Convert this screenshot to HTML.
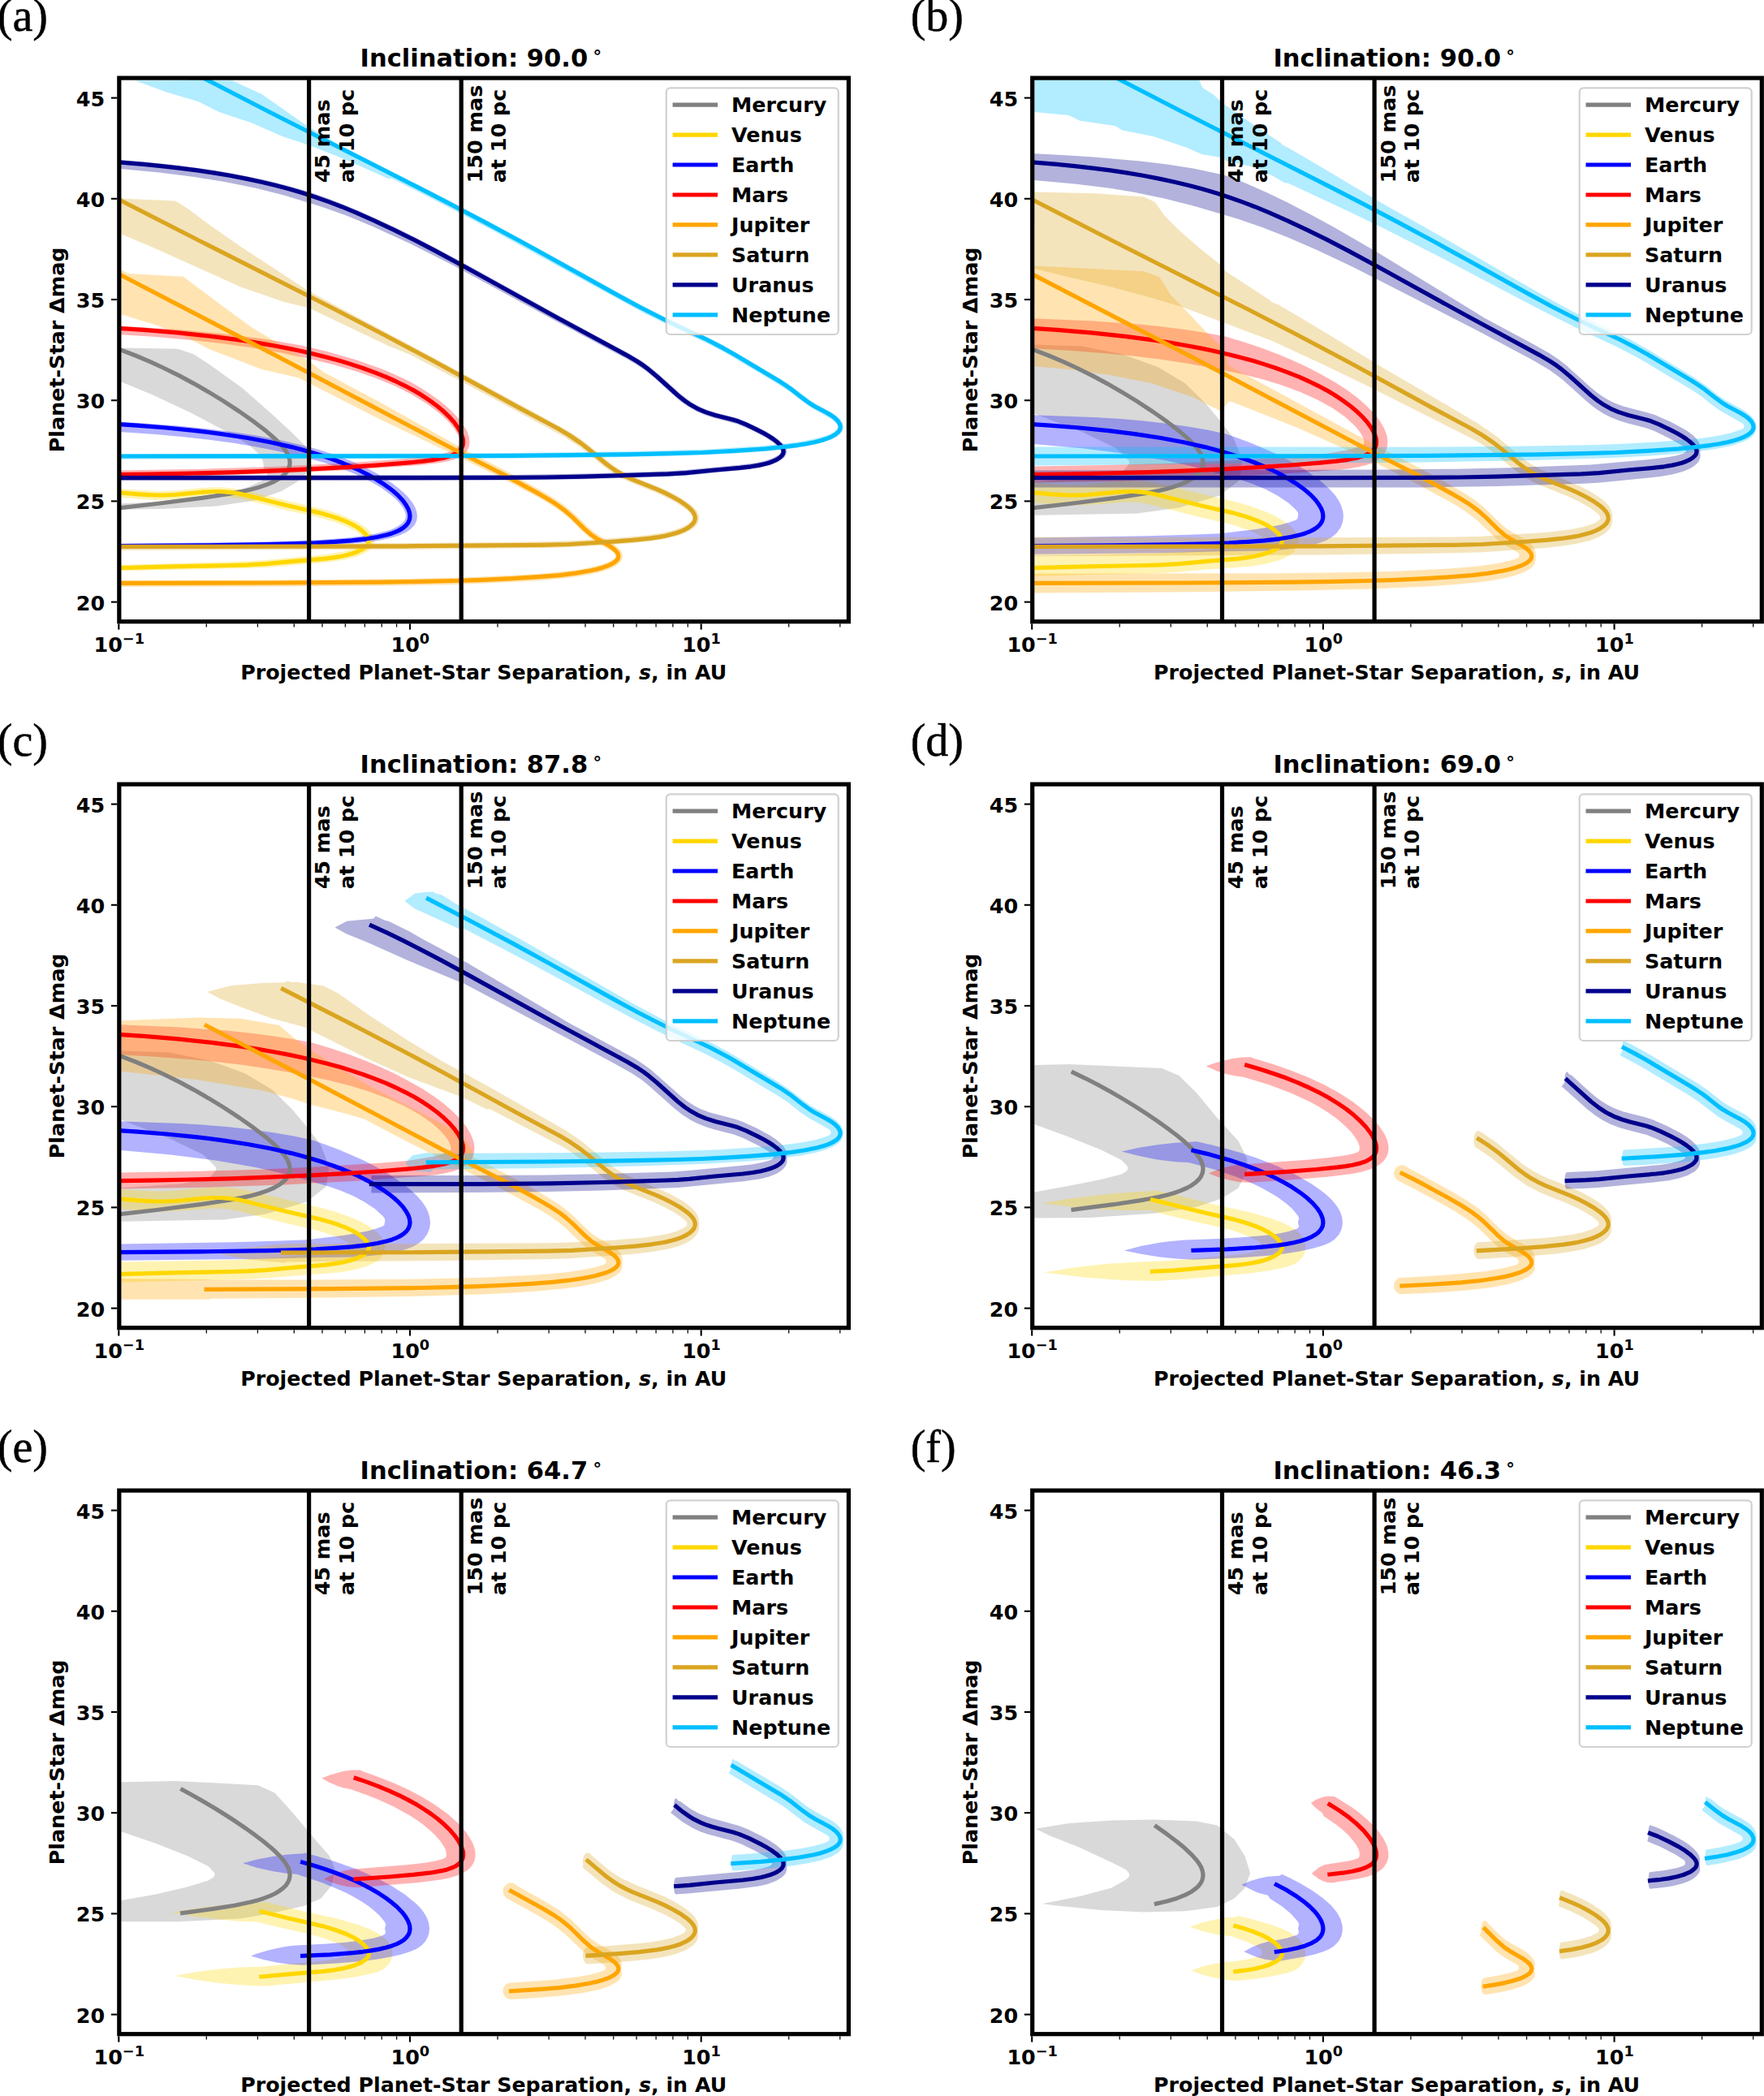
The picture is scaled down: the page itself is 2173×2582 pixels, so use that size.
<!DOCTYPE html>
<html><head><meta charset="utf-8"><title>Planet-Star Δmag vs projected separation</title>
<style>html,body{margin:0;padding:0;background:#fff}svg{display:block}text{font-family:"DejaVu Sans","Liberation Sans",sans-serif;fill:#000}.pl{font-family:"Liberation Serif","DejaVu Serif",serif;font-weight:normal}</style></head><body>
<svg width="2173" height="2582" viewBox="0 0 2173 2582">
<rect width="2173" height="2582" fill="#fff"/>
<g transform="translate(0.0,0.0)">
<clipPath id="cp0"><rect x="146.8" y="96.1" width="898.6" height="669.6"/></clipPath>
<g clip-path="url(#cp0)">
<path d="M148.7,620.8L148.7,627.2L149.3,627.8L203.5,626.7L266.9,623.5L314.8,616.3L346.2,605.3L365.5,594.0L374.8,586.3L382.4,577.2L382.9,576.0L382.6,562.0L376.3,549.5L362.2,535.4L338.4,513.2L298.8,478.3L259.1,449.7L238.6,436.3L219.1,429.8L148.8,428.4L148.9,470.2L187.7,486.2L235.1,508.4L282.8,533.8L306.4,547.9L319.7,559.9L323.8,568.1L325.2,577.1L328.6,581.9L329.2,583.6L329.1,585.4L328.1,587.0L321.8,592.8L298.4,602.9L267.2,610.7L203.6,617.9L149.2,620.3Z" fill="#808080" fill-opacity="0.3" fill-rule="evenodd"/>
<path d="M140.0,612.3L176.6,615.3L197.0,616.0L217.4,615.3L261.3,611.6L276.6,611.8L291.9,613.7L307.6,617.1L353.6,628.7L391.6,637.2L411.2,642.7L426.7,648.5L438.2,654.4L446.3,660.5L449.1,663.5L449.9,665.4L449.6,667.4L447.6,669.7L443.0,672.7L437.0,675.3L421.9,679.7L402.4,682.8L326.6,689.9L306.8,691.3L140.0,696.3L140.0,703.3L307.2,700.1L329.4,698.9L403.5,692.8L426.1,689.3L436.6,686.6L444.7,683.7L451.3,680.3L456.5,676.5L459.8,672.4L461.3,668.1L461.2,664.1L459.9,660.3L457.1,656.0L452.8,651.6L447.1,647.2L439.9,642.7L425.0,635.9L410.7,630.8L396.4,626.7L350.3,616.1L306.3,605.1L294.0,602.6L279.4,600.7L262.9,600.3L248.6,601.1L216.6,604.2L193.1,604.9L173.3,604.0L140.0,601.2Z" fill="#FFD700" fill-opacity="0.3" fill-rule="evenodd"/>
<path d="M140.0,531.5L188.3,534.7L224.1,537.9L255.9,541.4L287.6,545.8L315.4,550.4L339.1,555.1L374.8,563.3L398.6,569.8L418.5,576.4L438.3,584.2L454.2,591.9L469.9,601.1L481.6,609.7L488.0,615.3L492.7,620.4L496.2,625.1L498.5,629.4L499.7,633.1L500.0,636.5L498.6,641.0L495.1,645.1L489.0,649.1L481.5,652.4L473.8,654.8L462.2,657.6L446.5,660.3L430.6,662.3L394.8,665.0L334.9,667.2L255.0,668.6L140.0,669.7L140.0,675.7L257.0,675.0L337.1,673.9L393.2,672.0L441.4,669.0L457.7,667.2L470.0,665.2L482.5,662.4L491.3,659.7L499.9,655.9L506.0,651.8L510.5,647.1L513.3,641.2L514.0,636.2L513.3,630.5L511.4,625.0L508.4,619.7L504.0,613.9L498.5,608.0L491.7,601.9L483.1,595.2L464.3,583.2L443.8,572.6L421.3,563.4L394.8,554.6L370.4,547.9L344.1,541.9L315.9,536.6L285.7,531.9L253.5,527.9L219.4,524.5L185.3,521.9L140.0,519.2Z" fill="#0000FF" fill-opacity="0.3" fill-rule="evenodd"/>
<path d="M140.0,411.5L192.4,415.0L236.2,419.0L276.1,423.5L311.9,428.6L347.7,434.8L383.4,442.4L411.2,449.3L439.0,457.4L462.8,465.8L486.6,475.6L506.3,485.5L526.0,497.4L541.7,509.3L549.4,516.4L554.8,522.1L559.4,527.9L563.5,534.4L565.9,540.1L566.6,544.9L565.8,548.2L563.4,551.3L559.0,554.2L553.1,556.7L545.7,558.8L534.2,561.1L506.5,564.6L434.7,570.0L342.8,574.7L250.9,577.7L140.0,579.7L140.0,587.7L253.1,586.0L347.1,583.1L435.2,578.8L517.5,573.0L544.0,569.8L552.5,568.0L560.8,565.5L566.6,562.9L571.8,559.4L575.4,555.3L577.8,550.5L578.6,544.9L577.9,538.6L575.4,531.5L571.4,524.4L565.3,516.1L558.1,508.2L549.6,500.3L541.2,493.4L530.9,485.9L520.7,479.3L508.4,472.1L498.2,466.8L483.9,460.2L469.6,454.3L439.2,443.4L402.8,432.9L382.6,427.9L368.4,425.0L324.0,417.3L273.6,410.9L213.4,405.5L140.0,401.3Z" fill="#FF0000" fill-opacity="0.3" fill-rule="evenodd"/>
<path d="M140.0,347.1L147.0,350.7L148.5,352.2L149.1,354.3L149.1,386.6L149.7,387.4L192.3,400.4L231.1,415.9L257.5,430.1L322.4,455.0L367.5,465.3L466.4,515.7L566.4,563.4L614.8,587.3L666.9,614.8L678.8,621.9L690.7,629.9L702.4,639.6L716.4,653.5L724.6,660.8L733.0,666.7L752.0,677.9L756.5,681.7L758.0,684.4L757.8,686.3L756.8,688.0L751.9,691.2L741.9,695.2L730.1,698.3L714.4,701.4L698.5,703.6L678.7,705.6L650.8,707.7L574.9,711.2L487.0,713.2L355.0,714.3L140.0,715.0L140.0,723.0L347.0,722.5L475.1,721.6L563.1,719.9L633.2,717.1L663.3,715.2L689.4,713.0L709.6,710.6L727.9,707.4L742.3,703.9L753.9,699.7L761.4,695.2L764.0,692.7L765.6,690.3L766.9,686.2L766.6,682.5L764.9,678.7L761.3,674.5L753.8,668.9L739.3,660.6L731.7,655.5L724.2,649.1L710.3,635.4L702.1,627.9L693.8,621.4L683.6,614.4L665.4,603.5L625.5,581.3L571.6,553.4L473.1,498.3L398.7,458.6L380.3,444.6L348.6,426.4L309.3,402.8L270.4,374.2L226.5,341.2L225.5,340.8L158.6,337.0L156.9,336.5L140.0,327.7Z" fill="#FFA500" fill-opacity="0.3" fill-rule="evenodd"/>
<path d="M140.0,257.6L147.0,261.2L148.5,262.6L149.1,264.7L149.1,287.6L149.7,288.4L192.2,306.4L296.5,353.4L348.5,371.6L380.8,379.6L478.9,426.3L504.8,436.7L566.2,468.8L694.5,537.7L714.3,550.6L722.2,556.7L744.3,575.1L756.7,583.9L764.9,588.7L773.1,592.8L811.3,608.3L830.9,617.9L841.3,624.5L847.7,629.5L852.0,634.3L853.0,636.4L853.3,638.2L852.6,640.4L850.4,643.1L846.7,646.0L842.4,648.4L829.9,653.1L814.3,656.7L798.4,659.1L774.7,661.6L706.8,666.1L670.9,667.3L511.0,669.0L140.0,670.4L140.0,677.9L503.0,676.8L667.0,675.1L701.2,674.2L777.3,669.3L799.4,667.0L817.7,664.2L834.1,660.2L845.5,655.9L850.7,653.0L854.6,650.2L857.7,647.2L859.7,644.2L861.1,640.2L861.2,636.6L860.3,633.0L858.3,629.3L855.4,625.7L851.3,621.9L839.1,613.4L820.7,603.6L782.5,588.0L766.9,580.4L759.1,575.5L751.4,570.0L719.4,543.8L707.1,535.3L694.9,527.9L536.7,442.1L380.2,358.4L296.4,303.8L257.4,276.5L231.3,256.9L216.1,247.5L152.9,244.8L151.2,244.3L140.0,238.6Z" fill="#DAA520" fill-opacity="0.3" fill-rule="evenodd"/>
<path d="M140.0,207.1L196.2,212.5L239.8,218.0L279.5,224.5L315.1,231.8L350.6,240.7L394.1,254.0L426.0,265.3L458.0,278.4L506.2,300.5L558.5,326.9L682.9,394.5L771.1,441.5L783.1,448.4L794.9,456.5L806.7,466.1L834.8,491.4L843.0,497.7L851.2,503.1L859.5,507.5L869.8,511.8L880.0,515.0L907.7,522.3L915.6,525.4L927.4,530.8L943.2,539.1L952.4,545.1L959.7,551.5L961.5,554.1L962.0,556.4L961.1,558.6L959.5,560.2L952.3,564.3L942.1,567.8L930.4,570.2L910.6,572.7L846.7,578.8L826.8,580.2L718.9,583.6L631.0,584.9L140.0,585.4L140.0,592.1L629.0,591.6L719.1,590.3L825.1,587.0L847.3,585.6L913.3,579.3L935.6,576.2L947.9,573.2L957.8,569.3L964.7,564.8L967.0,562.4L968.5,559.7L969.2,557.0L968.9,553.8L967.4,550.4L965.0,547.1L957.2,540.0L944.7,532.0L928.4,523.7L914.2,517.4L905.9,514.5L885.7,509.5L874.1,506.1L866.2,503.0L858.4,499.3L850.8,494.7L839.2,486.0L811.3,460.9L801.1,452.5L790.9,445.1L778.7,437.6L686.6,387.8L578.6,328.1L538.6,306.4L488.5,280.9L442.4,259.7L404.2,244.6L384.1,237.6L366.0,232.0L345.9,226.5L325.8,221.5L283.6,213.0L251.5,207.9L217.4,203.5L181.3,199.7L140.0,196.3Z" fill="#00008B" fill-opacity="0.3" fill-rule="evenodd"/>
<path d="M228.4,90.0L231.5,91.6L233.0,93.0L233.6,95.0L233.2,97.1L231.7,98.6L229.7,99.1L166.4,99.2L205.1,113.4L244.0,125.1L270.5,138.3L309.7,151.3L348.5,168.2L380.5,178.7L426.7,196.9L478.5,220.2L480.6,219.6L483.1,220.0L551.0,254.4L611.0,285.9L789.1,383.4L823.3,400.5L871.3,423.0L895.1,435.6L959.0,473.4L974.7,484.0L995.0,499.6L1003.2,504.6L1023.0,515.4L1027.0,518.4L1029.9,521.2L1031.8,524.3L1032.1,526.6L1031.0,528.9L1027.8,531.7L1022.9,534.4L1017.8,536.5L1006.0,540.0L986.4,543.9L966.5,546.6L938.7,549.3L870.8,553.5L778.9,556.1L635.0,557.9L475.0,558.6L140.0,559.2L140.0,565.8L629.0,564.7L767.1,563.1L861.1,560.8L899.2,558.9L939.2,556.2L967.3,553.5L989.5,550.4L1007.8,546.7L1022.9,542.0L1028.4,539.4L1032.4,537.0L1035.5,534.3L1037.9,531.2L1039.2,526.4L1038.2,521.3L1034.6,516.0L1028.9,511.0L1023.4,507.4L1006.6,498.5L998.9,493.8L977.0,477.0L962.8,467.5L894.5,427.2L874.4,416.7L826.4,394.2L794.4,378.1L758.5,358.8L656.5,302.2L600.5,272.0L526.4,233.3L416.9,177.7L380.3,156.4L322.4,116.0L286.4,99.3L264.4,99.1L262.5,98.7L245.7,90.0Z" fill="#00BFFF" fill-opacity="0.3" fill-rule="evenodd"/>
<path d="M120.0,628.9L193.0,620.5L249.0,613.4L283.0,608.2L297.0,605.6L309.0,603.0L319.0,600.3L329.0,596.9L337.0,593.5L344.4,589.2L349.9,584.9L351.8,583.0L353.8,580.4L355.0,578.3L356.1,575.7L356.8,573.0L357.1,570.2L356.8,566.8L355.9,563.3L354.4,559.6L352.6,556.4L349.9,552.5L347.0,549.0L339.0,540.8L327.0,530.4L313.0,519.7L295.0,507.0L275.0,493.9L257.0,482.9L239.0,472.6L221.0,462.9L201.0,453.0L185.0,445.6L167.0,438.0L120.0,420.0" fill="none" stroke="#808080" stroke-width="5.2" stroke-linejoin="round" stroke-linecap="square"/>
<path d="M120.0,700.3L213.0,697.9L285.0,696.5L305.0,695.9L327.0,694.6L365.0,691.1L399.0,688.4L411.0,686.9L421.0,685.2L431.0,682.8L439.0,680.2L445.4,677.2L448.0,675.6L450.6,673.6L452.2,672.0L453.4,670.3L454.1,668.6L454.5,666.6L454.3,664.8L453.9,663.3L451.9,659.8L448.5,656.0L443.7,651.9L439.0,648.8L433.0,645.5L425.0,641.9L417.0,638.8L405.0,634.9L393.0,631.6L353.0,622.5L307.0,610.9L293.0,607.8L285.0,606.6L277.0,605.8L271.0,605.5L263.0,605.5L251.0,606.2L215.0,609.5L203.0,610.0L193.0,610.0L183.0,609.7L171.0,608.9L120.0,604.5" fill="none" stroke="#FFD700" stroke-width="5.2" stroke-linejoin="round" stroke-linecap="square"/>
<path d="M120.0,672.8L245.0,671.9L329.0,670.7L361.0,669.8L389.0,668.8L413.0,667.4L433.0,665.8L451.0,663.8L465.0,661.5L477.0,658.8L483.0,656.9L487.0,655.4L491.0,653.6L495.0,651.4L497.8,649.4L500.5,646.8L502.3,644.6L503.8,641.7L504.6,639.3L505.0,636.1L504.5,631.6L502.9,626.9L500.1,621.9L496.2,616.5L491.0,610.9L485.0,605.5L479.0,600.8L471.0,595.2L463.0,590.2L453.0,584.6L443.0,579.5L433.0,575.0L423.0,570.8L411.0,566.2L399.0,562.1L385.0,557.7L373.0,554.3L359.0,550.6L333.0,544.8L305.0,539.5L273.0,534.6L241.0,530.6L205.0,527.0L169.0,524.1L120.0,521.0" fill="none" stroke="#0000FF" stroke-width="5.2" stroke-linejoin="round" stroke-linecap="square"/>
<path d="M120.0,585.0L185.0,584.1L237.0,583.0L285.0,581.8L331.0,580.2L377.0,578.2L421.0,575.8L465.0,573.0L501.0,570.2L521.0,568.2L535.0,566.3L547.0,563.9L555.0,561.6L559.0,559.9L562.1,558.3L564.6,556.6L566.7,554.7L568.3,552.6L569.5,550.4L570.3,547.9L570.6,544.8L570.5,542.0L570.0,539.6L568.0,533.8L564.6,527.5L559.7,520.6L553.0,513.1L547.0,507.3L539.0,500.5L529.0,493.1L519.0,486.5L509.0,480.6L499.0,475.3L487.0,469.5L475.0,464.2L461.0,458.6L447.0,453.5L433.0,448.9L419.0,444.6L403.0,440.2L387.0,436.2L371.0,432.5L355.0,429.1L337.0,425.7L319.0,422.6L299.0,419.4L261.0,414.4L219.0,409.9L177.0,406.4L120.0,402.7" fill="none" stroke="#FF0000" stroke-width="5.2" stroke-linejoin="round" stroke-linecap="square"/>
<path d="M120.0,718.5L337.0,718.0L469.0,717.1L517.0,716.4L559.0,715.5L595.0,714.3L631.0,712.7L663.0,710.7L689.0,708.6L709.0,706.1L727.0,703.0L735.0,701.2L743.0,698.9L748.5,697.0L753.1,694.9L756.7,692.8L759.7,690.3L761.3,688.1L761.9,685.4L761.5,683.0L760.5,680.9L758.7,678.7L755.8,676.0L749.9,671.9L735.0,663.4L729.0,659.4L721.0,652.6L705.0,636.9L695.0,628.3L689.0,623.8L683.0,619.7L675.0,614.7L665.0,608.9L619.0,583.9L585.0,566.7L551.0,549.2L341.0,438.6L120.0,323.9" fill="none" stroke="#FFA500" stroke-width="5.2" stroke-linejoin="round" stroke-linecap="square"/>
<path d="M120.0,673.4L359.0,673.2L499.0,672.8L667.0,671.3L701.0,670.5L751.0,667.5L779.0,665.4L801.0,663.1L811.0,661.6L819.0,660.2L827.0,658.3L835.0,656.0L841.0,653.6L846.2,651.0L850.4,648.2L853.8,644.8L855.6,641.8L856.1,640.3L856.3,638.3L856.1,635.9L855.2,633.4L853.8,630.8L852.1,628.7L849.5,626.0L846.8,623.7L839.0,618.1L829.0,612.2L819.0,607.1L809.0,602.7L779.0,590.6L769.0,585.8L761.0,581.4L755.0,577.5L747.0,571.7L725.0,553.2L715.0,545.5L701.0,536.0L687.0,527.8L639.0,502.1L535.0,445.2L467.0,409.2L407.0,378.3L247.0,297.2L120.0,232.3" fill="none" stroke="#DAA520" stroke-width="5.2" stroke-linejoin="round" stroke-linecap="square"/>
<path d="M120.0,588.6L515.0,588.7L625.0,588.4L673.0,588.0L717.0,587.2L823.0,583.9L845.0,582.6L881.0,579.0L911.0,576.4L925.0,574.8L935.0,573.1L941.0,571.8L947.0,570.2L952.4,568.2L956.9,566.1L960.3,563.9L963.1,561.3L964.6,559.0L965.2,556.4L964.7,553.6L963.1,550.6L960.3,547.3L956.9,544.2L952.4,540.8L947.0,537.3L941.0,533.8L933.0,529.6L919.0,522.9L909.0,518.8L901.0,516.5L881.0,511.5L869.0,507.6L859.0,503.3L851.0,498.8L843.0,493.4L835.0,487.0L809.0,463.5L797.0,453.6L791.0,449.2L785.0,445.3L771.0,437.1L687.0,391.8L575.0,330.0L535.0,308.4L509.0,294.9L485.0,283.1L461.0,271.8L439.0,262.1L421.0,254.7L405.0,248.6L389.0,243.0L373.0,237.8L357.0,233.1L339.0,228.3L321.0,224.0L303.0,220.1L283.0,216.3L263.0,212.9L243.0,209.9L221.0,207.1L199.0,204.6L177.0,202.4L120.0,197.7" fill="none" stroke="#00008B" stroke-width="5.2" stroke-linejoin="round" stroke-linecap="square"/>
<path d="M120.0,562.0L467.0,561.9L629.0,561.4L703.0,560.7L771.0,559.8L825.0,558.7L865.0,557.5L905.0,555.4L943.0,552.8L971.0,549.9L983.0,548.3L993.0,546.7L1003.0,544.7L1011.0,542.7L1019.0,540.1L1024.4,537.8L1028.9,535.3L1032.5,532.3L1034.4,529.5L1034.9,528.1L1035.2,526.2L1035.0,524.3L1034.6,522.7L1032.5,519.1L1028.9,515.4L1024.4,512.0L1019.0,508.7L1003.0,500.2L997.0,496.5L989.0,490.7L975.0,479.7L967.0,474.1L959.0,469.0L905.0,436.8L891.0,428.9L871.0,418.5L837.0,402.7L819.0,394.0L787.0,377.7L755.0,360.4L681.0,319.2L641.0,297.3L597.0,273.6L549.0,248.4L511.0,228.9L331.0,137.5L120.0,28.8" fill="none" stroke="#00BFFF" stroke-width="5.2" stroke-linejoin="round" stroke-linecap="square"/>
<line x1="380.6" y1="96.1" x2="380.6" y2="765.7" stroke="#000" stroke-width="5.2"/>
<line x1="568.2" y1="96.1" x2="568.2" y2="765.7" stroke="#000" stroke-width="5.2"/>
</g>
<text transform="translate(406.4,225.3) rotate(-90)" font-size="25.4" font-weight="bold"><tspan x="0" y="0">45 mas</tspan><tspan x="0" y="29.4">at 10 pc</tspan></text>
<text transform="translate(594.0,225.3) rotate(-90)" font-size="25.4" font-weight="bold"><tspan x="0" y="0">150 mas</tspan><tspan x="0" y="29.4">at 10 pc</tspan></text>
<rect x="146.8" y="96.1" width="898.6" height="669.6" fill="none" stroke="#000" stroke-width="5.2"/>
<line x1="136.9" y1="741.6" x2="144.2" y2="741.6" stroke="#000" stroke-width="2.1"/>
<text x="129.2" y="751.6" text-anchor="end" font-size="25.4" font-weight="bold">20</text>
<line x1="136.9" y1="617.4" x2="144.2" y2="617.4" stroke="#000" stroke-width="2.1"/>
<text x="129.2" y="627.4" text-anchor="end" font-size="25.4" font-weight="bold">25</text>
<line x1="136.9" y1="493.2" x2="144.2" y2="493.2" stroke="#000" stroke-width="2.1"/>
<text x="129.2" y="503.2" text-anchor="end" font-size="25.4" font-weight="bold">30</text>
<line x1="136.9" y1="369.0" x2="144.2" y2="369.0" stroke="#000" stroke-width="2.1"/>
<text x="129.2" y="379.0" text-anchor="end" font-size="25.4" font-weight="bold">35</text>
<line x1="136.9" y1="244.8" x2="144.2" y2="244.8" stroke="#000" stroke-width="2.1"/>
<text x="129.2" y="254.8" text-anchor="end" font-size="25.4" font-weight="bold">40</text>
<line x1="136.9" y1="120.6" x2="144.2" y2="120.6" stroke="#000" stroke-width="2.1"/>
<text x="129.2" y="130.6" text-anchor="end" font-size="25.4" font-weight="bold">45</text>
<line x1="146.3" y1="768.3" x2="146.3" y2="775.6" stroke="#000" stroke-width="2.1"/>
<text x="115.5" y="803.0" font-size="25.4" font-weight="bold">10<tspan dy="-9.6" font-size="17.7">−1</tspan></text>
<line x1="254.3" y1="768.3" x2="254.3" y2="772.5" stroke="#000" stroke-width="1.25"/>
<line x1="317.4" y1="768.3" x2="317.4" y2="772.5" stroke="#000" stroke-width="1.25"/>
<line x1="362.3" y1="768.3" x2="362.3" y2="772.5" stroke="#000" stroke-width="1.25"/>
<line x1="397.0" y1="768.3" x2="397.0" y2="772.5" stroke="#000" stroke-width="1.25"/>
<line x1="425.4" y1="768.3" x2="425.4" y2="772.5" stroke="#000" stroke-width="1.25"/>
<line x1="449.4" y1="768.3" x2="449.4" y2="772.5" stroke="#000" stroke-width="1.25"/>
<line x1="470.2" y1="768.3" x2="470.2" y2="772.5" stroke="#000" stroke-width="1.25"/>
<line x1="488.6" y1="768.3" x2="488.6" y2="772.5" stroke="#000" stroke-width="1.25"/>
<line x1="505.0" y1="768.3" x2="505.0" y2="775.6" stroke="#000" stroke-width="2.1"/>
<text x="481.5" y="803.0" font-size="25.4" font-weight="bold">10<tspan dy="-9.6" font-size="17.7">0</tspan></text>
<line x1="613.0" y1="768.3" x2="613.0" y2="772.5" stroke="#000" stroke-width="1.25"/>
<line x1="676.1" y1="768.3" x2="676.1" y2="772.5" stroke="#000" stroke-width="1.25"/>
<line x1="721.0" y1="768.3" x2="721.0" y2="772.5" stroke="#000" stroke-width="1.25"/>
<line x1="755.7" y1="768.3" x2="755.7" y2="772.5" stroke="#000" stroke-width="1.25"/>
<line x1="784.1" y1="768.3" x2="784.1" y2="772.5" stroke="#000" stroke-width="1.25"/>
<line x1="808.1" y1="768.3" x2="808.1" y2="772.5" stroke="#000" stroke-width="1.25"/>
<line x1="828.9" y1="768.3" x2="828.9" y2="772.5" stroke="#000" stroke-width="1.25"/>
<line x1="847.3" y1="768.3" x2="847.3" y2="772.5" stroke="#000" stroke-width="1.25"/>
<line x1="863.7" y1="768.3" x2="863.7" y2="775.6" stroke="#000" stroke-width="2.1"/>
<text x="840.2" y="803.0" font-size="25.4" font-weight="bold">10<tspan dy="-9.6" font-size="17.7">1</tspan></text>
<line x1="971.7" y1="768.3" x2="971.7" y2="772.5" stroke="#000" stroke-width="1.25"/>
<line x1="1034.8" y1="768.3" x2="1034.8" y2="772.5" stroke="#000" stroke-width="1.25"/>
<text x="595.7" y="837" text-anchor="middle" font-size="25.3" font-weight="bold">Projected Planet-Star Separation, <tspan font-style="italic">s</tspan>, in AU</text>
<text transform="translate(78.6,430.9) rotate(-90)" text-anchor="middle" font-size="25.4" font-weight="bold">Planet-Star Δmag</text>
<text x="443.6" y="81.5" font-size="30.55" font-weight="bold">Inclination: 90.0<tspan dx="5" dy="-11" font-size="21" font-weight="bold">∘</tspan></text>
<rect x="820.8" y="108.4" width="212.0" height="303.6" rx="5" ry="5" fill="#fff" fill-opacity="0.8" stroke="#ccc" stroke-opacity="0.9" stroke-width="2.2"/>
<line x1="828.6" y1="129.1" x2="884.1" y2="129.1" stroke="#808080" stroke-width="5.2"/>
<text x="901.0" y="138.4" font-size="25.4" font-weight="bold">Mercury</text>
<line x1="828.6" y1="166.1" x2="884.1" y2="166.1" stroke="#FFD700" stroke-width="5.2"/>
<text x="901.0" y="175.4" font-size="25.4" font-weight="bold">Venus</text>
<line x1="828.6" y1="203.0" x2="884.1" y2="203.0" stroke="#0000FF" stroke-width="5.2"/>
<text x="901.0" y="212.3" font-size="25.4" font-weight="bold">Earth</text>
<line x1="828.6" y1="240.0" x2="884.1" y2="240.0" stroke="#FF0000" stroke-width="5.2"/>
<text x="901.0" y="249.3" font-size="25.4" font-weight="bold">Mars</text>
<line x1="828.6" y1="276.9" x2="884.1" y2="276.9" stroke="#FFA500" stroke-width="5.2"/>
<text x="901.0" y="286.2" font-size="25.4" font-weight="bold">Jupiter</text>
<line x1="828.6" y1="313.9" x2="884.1" y2="313.9" stroke="#DAA520" stroke-width="5.2"/>
<text x="901.0" y="323.2" font-size="25.4" font-weight="bold">Saturn</text>
<line x1="828.6" y1="350.9" x2="884.1" y2="350.9" stroke="#00008B" stroke-width="5.2"/>
<text x="901.0" y="360.2" font-size="25.4" font-weight="bold">Uranus</text>
<line x1="828.6" y1="387.8" x2="884.1" y2="387.8" stroke="#00BFFF" stroke-width="5.2"/>
<text x="901.0" y="397.1" font-size="25.4" font-weight="bold">Neptune</text>
</g>
<text class="pl" x="-3.2" y="38" font-size="56" stroke="#000" stroke-width="0.5">(a)</text>
<g transform="translate(1124.9,0.0)">
<clipPath id="cp1"><rect x="146.8" y="96.1" width="898.6" height="669.6"/></clipPath>
<g clip-path="url(#cp1)">
<path d="M149.5,593.8L149.6,634.8L276.3,632.4L327.3,625.5L377.8,610.4L401.4,592.0L402.1,590.8L405.3,566.6L395.0,540.3L378.2,518.5L361.2,498.1L335.5,472.4L301.8,452.2L259.0,436.8L208.3,426.6L150.0,424.6L149.5,425.1L149.6,509.8L208.0,532.0L250.0,552.2L265.1,566.9L266.1,568.5L266.2,570.5L265.3,572.3L260.0,578.7L257.9,580.0L225.5,588.1L150.0,593.2Z" fill="#808080" fill-opacity="0.3" fill-rule="evenodd"/>
<path d="M140.0,618.4L178.3,621.7L199.0,622.5L219.9,621.8L261.4,618.5L272.5,618.7L283.4,619.8L298.0,622.9L343.7,634.8L389.5,645.6L400.8,648.8L412.0,652.7L422.9,657.5L429.4,661.4L430.7,663.0L431.0,665.2L430.1,667.1L427.0,668.9L416.4,671.6L405.2,673.5L389.9,675.1L321.9,680.6L290.6,682.0L140.0,684.8L140.0,709.8L309.5,705.7L327.8,704.6L375.8,700.4L402.1,698.8L416.8,697.4L429.8,695.5L441.3,693.0L450.6,690.2L458.9,686.8L464.6,683.5L469.3,679.4L472.5,674.6L474.2,669.6L474.4,664.5L473.2,659.6L470.6,654.7L466.2,649.4L460.6,644.7L452.8,639.5L444.3,634.9L434.8,630.6L415.4,623.5L396.4,617.9L348.3,606.8L312.4,598.0L295.4,594.5L280.1,592.8L262.7,592.5L247.9,593.4L212.3,597.1L193.2,597.6L173.9,596.8L140.0,594.1Z" fill="#FFD700" fill-opacity="0.3" fill-rule="evenodd"/>
<path d="M140.0,546.3L210.7,552.5L265.6,559.5L312.2,567.5L335.3,572.6L354.4,577.3L404.1,591.2L419.2,596.5L434.2,602.8L448.7,610.4L462.3,619.5L471.5,628.1L473.6,630.8L474.3,632.4L474.2,634.2L473.5,638.8L471.7,640.5L463.4,643.5L452.5,646.5L437.3,649.5L421.8,652.0L378.6,657.2L338.7,658.8L286.8,660.2L140.0,662.6L140.0,682.7L315.2,681.0L379.5,679.2L426.0,678.8L444.5,678.0L461.3,676.6L476.6,674.6L488.3,672.3L500.0,669.1L509.2,665.4L516.3,661.2L522.0,656.2L526.6,649.7L529.1,643.2L530.0,636.6L529.4,629.9L527.3,622.7L524.0,616.2L519.3,609.5L513.0,602.5L503.3,593.7L495.9,587.9L484.3,579.8L473.2,572.9L460.3,565.7L447.5,559.2L418.2,546.4L401.6,540.2L385.0,534.6L362.0,529.6L337.0,525.2L310.2,521.4L281.5,518.2L252.9,515.8L222.4,514.0L140.0,511.1Z" fill="#0000FF" fill-opacity="0.3" fill-rule="evenodd"/>
<path d="M140.0,429.0L191.0,431.8L230.6,434.7L266.2,438.0L301.7,442.3L333.1,446.9L364.5,452.5L403.8,460.6L431.4,467.6L454.9,474.8L478.3,483.5L497.6,492.2L516.7,502.8L531.7,513.3L542.7,523.2L548.4,529.6L552.0,534.7L554.6,539.9L555.6,544.6L555.2,546.5L553.9,547.9L550.8,549.6L544.0,552.1L533.2,554.8L502.0,559.9L470.3,562.6L394.5,567.3L318.6,570.7L234.8,573.1L140.0,574.7L140.0,594.7L253.2,592.7L349.4,589.5L439.6,584.7L526.3,578.4L538.8,576.9L549.7,575.1L559.0,572.8L566.8,569.8L572.5,566.5L577.6,562.2L581.2,557.4L583.6,551.9L584.6,544.1L583.5,536.4L580.1,527.4L574.9,518.5L567.9,509.6L558.1,499.5L547.3,490.0L534.6,480.5L519.9,471.1L501.3,460.5L485.0,452.1L468.7,444.5L450.5,436.8L430.2,429.1L407.9,421.5L385.7,414.7L363.0,410.4L336.3,406.2L307.7,402.6L279.2,399.6L218.4,395.2L140.0,391.9Z" fill="#FF0000" fill-opacity="0.3" fill-rule="evenodd"/>
<path d="M140.2,365.8L147.3,369.5L148.9,371.0L149.5,373.0L149.6,451.6L191.2,455.1L242.0,461.9L292.9,472.1L343.9,489.0L377.6,505.8L378.6,505.7L386.4,497.9L387.7,495.7L389.7,494.6L392.0,494.8L473.4,526.9L564.3,567.4L616.4,593.8L660.1,617.6L671.8,624.5L683.2,631.9L694.5,640.8L718.6,663.9L727.5,670.6L744.8,680.6L746.2,682.3L746.6,684.4L745.8,686.5L744.1,687.8L736.2,690.3L721.0,693.7L701.7,696.7L682.1,698.8L658.3,700.6L594.6,703.7L530.8,705.3L442.9,706.3L140.0,706.5L140.0,730.5L341.0,729.2L473.1,727.6L563.3,725.6L633.5,722.4L665.7,720.3L690.0,718.1L710.3,715.5L726.8,712.5L741.5,708.9L753.4,704.5L760.8,700.0L763.4,697.5L765.4,694.7L766.9,689.4L766.7,679.9L765.1,675.4L761.8,670.9L753.6,664.4L737.4,655.3L729.8,650.2L722.2,643.6L701.9,623.9L693.6,617.3L683.4,610.2L665.1,599.2L623.1,576.0L569.2,548.3L438.3,477.0L396.5,454.5L389.1,451.1L387.3,449.6L386.7,447.4L386.7,438.7L386.3,437.6L378.3,426.3L361.2,409.2L332.3,378.6L317.3,363.6L303.7,341.7L302.7,340.9L284.4,334.3L150.0,327.6L147.3,328.8L144.9,328.4L140.0,325.9Z" fill="#FFA500" fill-opacity="0.3" fill-rule="evenodd"/>
<path d="M140.0,267.0L147.3,270.7L148.9,272.2L149.5,274.3L149.5,330.9L191.1,341.2L242.1,353.0L293.2,366.7L332.4,378.6L441.3,419.6L500.6,447.1L557.9,474.5L687.9,540.0L699.7,546.8L711.2,554.6L741.2,579.1L754.1,588.0L762.6,593.0L773.2,598.1L805.6,611.0L820.9,618.2L832.1,624.5L838.4,628.7L844.6,633.9L846.5,636.9L846.3,639.0L845.0,640.7L841.1,643.4L835.6,645.9L824.6,649.3L809.5,652.3L790.0,654.8L770.2,656.6L694.6,660.9L662.9,661.4L494.9,662.2L140.0,661.4L140.0,685.4L501.1,683.4L667.1,681.3L701.4,680.3L777.8,675.1L800.2,672.6L818.7,669.6L833.6,665.9L840.1,663.6L846.6,660.6L854.2,655.3L857.3,652.1L859.2,649.2L860.7,645.3L861.3,640.8L861.2,634.0L860.0,628.9L858.2,625.2L855.1,621.0L851.1,617.1L845.5,612.7L835.1,606.0L822.6,599.4L780.5,581.8L769.2,576.3L761.6,571.9L754.0,566.7L746.2,560.7L720.0,538.6L705.8,528.4L695.8,521.7L575.8,451.2L511.6,411.9L451.3,375.9L442.3,372.4L440.8,371.3L439.7,369.8L385.5,334.7L378.0,325.7L352.6,305.4L327.1,283.2L310.4,266.6L297.8,249.1L284.3,242.5L225.1,238.3L150.0,236.6L147.8,237.3L145.4,236.9L140.0,234.1Z" fill="#DAA520" fill-opacity="0.3" fill-rule="evenodd"/>
<path d="M140.0,221.3L198.7,226.6L241.9,231.8L273.2,237.0L308.2,244.2L343.1,252.9L401.5,270.2L429.2,279.7L461.2,292.2L497.4,308.0L541.9,329.0L696.5,407.9L764.4,444.3L783.8,455.7L799.1,467.1L833.2,497.5L841.7,504.0L850.4,509.5L859.1,514.0L869.9,518.3L880.4,521.5L902.1,527.0L913.1,531.0L928.6,538.4L943.7,546.7L950.6,551.3L951.9,553.0L952.2,555.1L951.4,557.0L949.7,558.3L940.4,561.2L929.2,563.3L913.9,565.2L834.3,572.6L734.7,576.2L666.9,577.7L583.0,578.5L140.0,579.6L140.0,600.6L629.1,600.4L719.3,599.1L825.5,595.8L846.0,594.5L902.0,589.1L920.3,587.0L934.9,584.4L947.9,581.0L957.9,576.7L962.1,574.0L965.0,571.5L967.4,568.7L968.8,566.1L969.8,562.0L969.3,556.2L969.6,551.1L969.1,548.0L967.9,544.8L964.9,540.6L960.9,536.6L955.8,532.5L949.5,528.4L932.9,519.6L914.1,511.3L905.4,508.5L875.7,500.8L864.6,496.7L857.0,493.1L849.4,488.5L841.6,482.9L833.8,476.4L803.6,449.3L793.4,441.4L783.1,434.7L764.9,424.4L704.8,392.2L574.2,312.3L519.0,280.3L489.2,264.0L461.3,249.6L435.2,237.0L410.9,226.2L388.5,217.3L380.1,215.0L346.4,207.8L313.0,202.4L279.9,198.5L222.6,193.6L192.2,191.5L140.0,188.8Z" fill="#00008B" fill-opacity="0.3" fill-rule="evenodd"/>
<path d="M192.8,91.1L192.3,93.1L190.9,94.7L188.8,95.2L149.2,95.3L149.2,138.1L191.4,142.1L205.5,148.7L248.6,155.1L257.7,160.5L296.7,168.3L335.4,181.2L356.2,190.3L379.3,194.1L381.3,195.0L385.6,198.3L422.7,206.6L443.9,217.3L457.6,225.3L461.5,225.5L533.4,259.0L578.0,280.6L650.7,317.5L776.3,383.4L820.8,405.7L864.8,426.3L880.5,434.2L900.2,445.0L959.8,480.7L971.3,488.5L985.4,499.7L993.9,505.8L1021.6,521.4L1023.3,523.3L1023.6,525.3L1022.9,527.2L1021.3,528.5L1008.4,533.1L993.1,536.4L973.7,539.4L950.1,541.9L918.3,544.3L878.5,546.6L842.7,547.9L742.9,549.7L614.9,550.7L140.0,550.5L140.0,573.5L627.0,569.5L765.1,567.1L861.2,564.1L899.4,562.0L939.5,559.0L967.6,556.1L989.9,552.8L1008.3,548.9L1022.9,544.1L1028.0,541.6L1032.1,538.9L1035.0,536.2L1037.0,533.2L1038.6,528.0L1038.2,521.9L1035.9,516.6L1031.4,511.5L1023.4,505.6L999.5,492.6L991.9,487.2L975.8,474.4L961.6,464.8L905.8,430.9L887.7,420.7L871.6,412.3L811.9,383.4L776.3,364.1L651.7,292.0L574.3,248.6L492.9,200.1L461.9,182.0L454.8,178.4L452.5,175.8L413.8,150.0L380.7,126.7L369.3,116.0L357.6,108.9L355.9,107.0L351.1,95.4L292.6,95.2L290.8,94.8L281.5,90.0L192.5,90.0Z" fill="#00BFFF" fill-opacity="0.3" fill-rule="evenodd"/>
<path d="M120.0,628.9L193.0,620.5L249.0,613.4L283.0,608.2L297.0,605.6L309.0,603.0L319.0,600.3L329.0,596.9L337.0,593.5L344.4,589.2L349.9,584.9L351.8,583.0L353.8,580.4L355.0,578.3L356.1,575.7L356.8,573.0L357.1,570.2L356.8,566.8L355.9,563.3L354.4,559.6L352.6,556.4L349.9,552.5L347.0,549.0L339.0,540.8L327.0,530.4L313.0,519.7L295.0,507.0L275.0,493.9L257.0,482.9L239.0,472.6L221.0,462.9L201.0,453.0L185.0,445.6L167.0,438.0L120.0,420.0" fill="none" stroke="#808080" stroke-width="5.2" stroke-linejoin="round" stroke-linecap="square"/>
<path d="M120.0,700.3L213.0,697.9L285.0,696.5L305.0,695.9L327.0,694.6L365.0,691.1L399.0,688.4L411.0,686.9L421.0,685.2L431.0,682.8L439.0,680.2L445.4,677.2L448.0,675.6L450.6,673.6L452.2,672.0L453.4,670.3L454.1,668.6L454.5,666.6L454.3,664.8L453.9,663.3L451.9,659.8L448.5,656.0L443.7,651.9L439.0,648.8L433.0,645.5L425.0,641.9L417.0,638.8L405.0,634.9L393.0,631.6L353.0,622.5L307.0,610.9L293.0,607.8L285.0,606.6L277.0,605.8L271.0,605.5L263.0,605.5L251.0,606.2L215.0,609.5L203.0,610.0L193.0,610.0L183.0,609.7L171.0,608.9L120.0,604.5" fill="none" stroke="#FFD700" stroke-width="5.2" stroke-linejoin="round" stroke-linecap="square"/>
<path d="M120.0,672.8L245.0,671.9L329.0,670.7L361.0,669.8L389.0,668.8L413.0,667.4L433.0,665.8L451.0,663.8L465.0,661.5L477.0,658.8L483.0,656.9L487.0,655.4L491.0,653.6L495.0,651.4L497.8,649.4L500.5,646.8L502.3,644.6L503.8,641.7L504.6,639.3L505.0,636.1L504.5,631.6L502.9,626.9L500.1,621.9L496.2,616.5L491.0,610.9L485.0,605.5L479.0,600.8L471.0,595.2L463.0,590.2L453.0,584.6L443.0,579.5L433.0,575.0L423.0,570.8L411.0,566.2L399.0,562.1L385.0,557.7L373.0,554.3L359.0,550.6L333.0,544.8L305.0,539.5L273.0,534.6L241.0,530.6L205.0,527.0L169.0,524.1L120.0,521.0" fill="none" stroke="#0000FF" stroke-width="5.2" stroke-linejoin="round" stroke-linecap="square"/>
<path d="M120.0,585.0L185.0,584.1L237.0,583.0L285.0,581.8L331.0,580.2L377.0,578.2L421.0,575.8L465.0,573.0L501.0,570.2L521.0,568.2L535.0,566.3L547.0,563.9L555.0,561.6L559.0,559.9L562.1,558.3L564.6,556.6L566.7,554.7L568.3,552.6L569.5,550.4L570.3,547.9L570.6,544.8L570.5,542.0L570.0,539.6L568.0,533.8L564.6,527.5L559.7,520.6L553.0,513.1L547.0,507.3L539.0,500.5L529.0,493.1L519.0,486.5L509.0,480.6L499.0,475.3L487.0,469.5L475.0,464.2L461.0,458.6L447.0,453.5L433.0,448.9L419.0,444.6L403.0,440.2L387.0,436.2L371.0,432.5L355.0,429.1L337.0,425.7L319.0,422.6L299.0,419.4L261.0,414.4L219.0,409.9L177.0,406.4L120.0,402.7" fill="none" stroke="#FF0000" stroke-width="5.2" stroke-linejoin="round" stroke-linecap="square"/>
<path d="M120.0,718.5L337.0,718.0L469.0,717.1L517.0,716.4L559.0,715.5L595.0,714.3L631.0,712.7L663.0,710.7L689.0,708.6L709.0,706.1L727.0,703.0L735.0,701.2L743.0,698.9L748.5,697.0L753.1,694.9L756.7,692.8L759.7,690.3L761.3,688.1L761.9,685.4L761.5,683.0L760.5,680.9L758.7,678.7L755.8,676.0L749.9,671.9L735.0,663.4L729.0,659.4L721.0,652.6L705.0,636.9L695.0,628.3L689.0,623.8L683.0,619.7L675.0,614.7L665.0,608.9L619.0,583.9L585.0,566.7L551.0,549.2L341.0,438.6L120.0,323.9" fill="none" stroke="#FFA500" stroke-width="5.2" stroke-linejoin="round" stroke-linecap="square"/>
<path d="M120.0,673.4L359.0,673.2L499.0,672.8L667.0,671.3L701.0,670.5L751.0,667.5L779.0,665.4L801.0,663.1L811.0,661.6L819.0,660.2L827.0,658.3L835.0,656.0L841.0,653.6L846.2,651.0L850.4,648.2L853.8,644.8L855.6,641.8L856.1,640.3L856.3,638.3L856.1,635.9L855.2,633.4L853.8,630.8L852.1,628.7L849.5,626.0L846.8,623.7L839.0,618.1L829.0,612.2L819.0,607.1L809.0,602.7L779.0,590.6L769.0,585.8L761.0,581.4L755.0,577.5L747.0,571.7L725.0,553.2L715.0,545.5L701.0,536.0L687.0,527.8L639.0,502.1L535.0,445.2L467.0,409.2L407.0,378.3L247.0,297.2L120.0,232.3" fill="none" stroke="#DAA520" stroke-width="5.2" stroke-linejoin="round" stroke-linecap="square"/>
<path d="M120.0,588.6L515.0,588.7L625.0,588.4L673.0,588.0L717.0,587.2L823.0,583.9L845.0,582.6L881.0,579.0L911.0,576.4L925.0,574.8L935.0,573.1L941.0,571.8L947.0,570.2L952.4,568.2L956.9,566.1L960.3,563.9L963.1,561.3L964.6,559.0L965.2,556.4L964.7,553.6L963.1,550.6L960.3,547.3L956.9,544.2L952.4,540.8L947.0,537.3L941.0,533.8L933.0,529.6L919.0,522.9L909.0,518.8L901.0,516.5L881.0,511.5L869.0,507.6L859.0,503.3L851.0,498.8L843.0,493.4L835.0,487.0L809.0,463.5L797.0,453.6L791.0,449.2L785.0,445.3L771.0,437.1L687.0,391.8L575.0,330.0L535.0,308.4L509.0,294.9L485.0,283.1L461.0,271.8L439.0,262.1L421.0,254.7L405.0,248.6L389.0,243.0L373.0,237.8L357.0,233.1L339.0,228.3L321.0,224.0L303.0,220.1L283.0,216.3L263.0,212.9L243.0,209.9L221.0,207.1L199.0,204.6L177.0,202.4L120.0,197.7" fill="none" stroke="#00008B" stroke-width="5.2" stroke-linejoin="round" stroke-linecap="square"/>
<path d="M120.0,562.0L467.0,561.9L629.0,561.4L703.0,560.7L771.0,559.8L825.0,558.7L865.0,557.5L905.0,555.4L943.0,552.8L971.0,549.9L983.0,548.3L993.0,546.7L1003.0,544.7L1011.0,542.7L1019.0,540.1L1024.4,537.8L1028.9,535.3L1032.5,532.3L1034.4,529.5L1034.9,528.1L1035.2,526.2L1035.0,524.3L1034.6,522.7L1032.5,519.1L1028.9,515.4L1024.4,512.0L1019.0,508.7L1003.0,500.2L997.0,496.5L989.0,490.7L975.0,479.7L967.0,474.1L959.0,469.0L905.0,436.8L891.0,428.9L871.0,418.5L837.0,402.7L819.0,394.0L787.0,377.7L755.0,360.4L681.0,319.2L641.0,297.3L597.0,273.6L549.0,248.4L511.0,228.9L331.0,137.5L120.0,28.8" fill="none" stroke="#00BFFF" stroke-width="5.2" stroke-linejoin="round" stroke-linecap="square"/>
<line x1="380.6" y1="96.1" x2="380.6" y2="765.7" stroke="#000" stroke-width="5.2"/>
<line x1="568.2" y1="96.1" x2="568.2" y2="765.7" stroke="#000" stroke-width="5.2"/>
</g>
<text transform="translate(406.4,225.3) rotate(-90)" font-size="25.4" font-weight="bold"><tspan x="0" y="0">45 mas</tspan><tspan x="0" y="29.4">at 10 pc</tspan></text>
<text transform="translate(594.0,225.3) rotate(-90)" font-size="25.4" font-weight="bold"><tspan x="0" y="0">150 mas</tspan><tspan x="0" y="29.4">at 10 pc</tspan></text>
<rect x="146.8" y="96.1" width="898.6" height="669.6" fill="none" stroke="#000" stroke-width="5.2"/>
<line x1="136.9" y1="741.6" x2="144.2" y2="741.6" stroke="#000" stroke-width="2.1"/>
<text x="129.2" y="751.6" text-anchor="end" font-size="25.4" font-weight="bold">20</text>
<line x1="136.9" y1="617.4" x2="144.2" y2="617.4" stroke="#000" stroke-width="2.1"/>
<text x="129.2" y="627.4" text-anchor="end" font-size="25.4" font-weight="bold">25</text>
<line x1="136.9" y1="493.2" x2="144.2" y2="493.2" stroke="#000" stroke-width="2.1"/>
<text x="129.2" y="503.2" text-anchor="end" font-size="25.4" font-weight="bold">30</text>
<line x1="136.9" y1="369.0" x2="144.2" y2="369.0" stroke="#000" stroke-width="2.1"/>
<text x="129.2" y="379.0" text-anchor="end" font-size="25.4" font-weight="bold">35</text>
<line x1="136.9" y1="244.8" x2="144.2" y2="244.8" stroke="#000" stroke-width="2.1"/>
<text x="129.2" y="254.8" text-anchor="end" font-size="25.4" font-weight="bold">40</text>
<line x1="136.9" y1="120.6" x2="144.2" y2="120.6" stroke="#000" stroke-width="2.1"/>
<text x="129.2" y="130.6" text-anchor="end" font-size="25.4" font-weight="bold">45</text>
<line x1="146.3" y1="768.3" x2="146.3" y2="775.6" stroke="#000" stroke-width="2.1"/>
<text x="115.5" y="803.0" font-size="25.4" font-weight="bold">10<tspan dy="-9.6" font-size="17.7">−1</tspan></text>
<line x1="254.3" y1="768.3" x2="254.3" y2="772.5" stroke="#000" stroke-width="1.25"/>
<line x1="317.4" y1="768.3" x2="317.4" y2="772.5" stroke="#000" stroke-width="1.25"/>
<line x1="362.3" y1="768.3" x2="362.3" y2="772.5" stroke="#000" stroke-width="1.25"/>
<line x1="397.0" y1="768.3" x2="397.0" y2="772.5" stroke="#000" stroke-width="1.25"/>
<line x1="425.4" y1="768.3" x2="425.4" y2="772.5" stroke="#000" stroke-width="1.25"/>
<line x1="449.4" y1="768.3" x2="449.4" y2="772.5" stroke="#000" stroke-width="1.25"/>
<line x1="470.2" y1="768.3" x2="470.2" y2="772.5" stroke="#000" stroke-width="1.25"/>
<line x1="488.6" y1="768.3" x2="488.6" y2="772.5" stroke="#000" stroke-width="1.25"/>
<line x1="505.0" y1="768.3" x2="505.0" y2="775.6" stroke="#000" stroke-width="2.1"/>
<text x="481.5" y="803.0" font-size="25.4" font-weight="bold">10<tspan dy="-9.6" font-size="17.7">0</tspan></text>
<line x1="613.0" y1="768.3" x2="613.0" y2="772.5" stroke="#000" stroke-width="1.25"/>
<line x1="676.1" y1="768.3" x2="676.1" y2="772.5" stroke="#000" stroke-width="1.25"/>
<line x1="721.0" y1="768.3" x2="721.0" y2="772.5" stroke="#000" stroke-width="1.25"/>
<line x1="755.7" y1="768.3" x2="755.7" y2="772.5" stroke="#000" stroke-width="1.25"/>
<line x1="784.1" y1="768.3" x2="784.1" y2="772.5" stroke="#000" stroke-width="1.25"/>
<line x1="808.1" y1="768.3" x2="808.1" y2="772.5" stroke="#000" stroke-width="1.25"/>
<line x1="828.9" y1="768.3" x2="828.9" y2="772.5" stroke="#000" stroke-width="1.25"/>
<line x1="847.3" y1="768.3" x2="847.3" y2="772.5" stroke="#000" stroke-width="1.25"/>
<line x1="863.7" y1="768.3" x2="863.7" y2="775.6" stroke="#000" stroke-width="2.1"/>
<text x="840.2" y="803.0" font-size="25.4" font-weight="bold">10<tspan dy="-9.6" font-size="17.7">1</tspan></text>
<line x1="971.7" y1="768.3" x2="971.7" y2="772.5" stroke="#000" stroke-width="1.25"/>
<line x1="1034.8" y1="768.3" x2="1034.8" y2="772.5" stroke="#000" stroke-width="1.25"/>
<text x="595.7" y="837" text-anchor="middle" font-size="25.3" font-weight="bold">Projected Planet-Star Separation, <tspan font-style="italic">s</tspan>, in AU</text>
<text transform="translate(78.6,430.9) rotate(-90)" text-anchor="middle" font-size="25.4" font-weight="bold">Planet-Star Δmag</text>
<text x="443.6" y="81.5" font-size="30.55" font-weight="bold">Inclination: 90.0<tspan dx="5" dy="-11" font-size="21" font-weight="bold">∘</tspan></text>
<rect x="820.8" y="108.4" width="212.0" height="303.6" rx="5" ry="5" fill="#fff" fill-opacity="0.8" stroke="#ccc" stroke-opacity="0.9" stroke-width="2.2"/>
<line x1="828.6" y1="129.1" x2="884.1" y2="129.1" stroke="#808080" stroke-width="5.2"/>
<text x="901.0" y="138.4" font-size="25.4" font-weight="bold">Mercury</text>
<line x1="828.6" y1="166.1" x2="884.1" y2="166.1" stroke="#FFD700" stroke-width="5.2"/>
<text x="901.0" y="175.4" font-size="25.4" font-weight="bold">Venus</text>
<line x1="828.6" y1="203.0" x2="884.1" y2="203.0" stroke="#0000FF" stroke-width="5.2"/>
<text x="901.0" y="212.3" font-size="25.4" font-weight="bold">Earth</text>
<line x1="828.6" y1="240.0" x2="884.1" y2="240.0" stroke="#FF0000" stroke-width="5.2"/>
<text x="901.0" y="249.3" font-size="25.4" font-weight="bold">Mars</text>
<line x1="828.6" y1="276.9" x2="884.1" y2="276.9" stroke="#FFA500" stroke-width="5.2"/>
<text x="901.0" y="286.2" font-size="25.4" font-weight="bold">Jupiter</text>
<line x1="828.6" y1="313.9" x2="884.1" y2="313.9" stroke="#DAA520" stroke-width="5.2"/>
<text x="901.0" y="323.2" font-size="25.4" font-weight="bold">Saturn</text>
<line x1="828.6" y1="350.9" x2="884.1" y2="350.9" stroke="#00008B" stroke-width="5.2"/>
<text x="901.0" y="360.2" font-size="25.4" font-weight="bold">Uranus</text>
<line x1="828.6" y1="387.8" x2="884.1" y2="387.8" stroke="#00BFFF" stroke-width="5.2"/>
<text x="901.0" y="397.1" font-size="25.4" font-weight="bold">Neptune</text>
</g>
<text class="pl" x="1121.7" y="38" font-size="56" stroke="#000" stroke-width="0.5">(b)</text>
<g transform="translate(0.0,870.0)">
<clipPath id="cp2"><rect x="146.8" y="96.1" width="898.6" height="669.6"/></clipPath>
<g clip-path="url(#cp2)">
<path d="M149.5,593.8L149.6,634.8L276.3,632.4L327.3,625.5L377.8,610.4L401.4,592.0L402.1,590.8L405.3,566.6L395.0,540.3L378.2,518.5L361.2,498.1L335.5,472.4L301.8,452.2L259.0,436.8L208.3,426.6L150.0,424.6L149.5,425.1L149.6,509.8L208.0,532.0L250.0,552.2L265.1,566.9L266.1,568.5L266.2,570.5L265.3,572.3L260.0,578.7L257.9,580.0L225.5,588.1L150.0,593.2Z" fill="#808080" fill-opacity="0.3" fill-rule="evenodd"/>
<path d="M140.0,618.4L178.3,621.7L199.0,622.5L219.9,621.8L261.4,618.5L272.5,618.7L283.4,619.8L298.0,622.9L343.7,634.8L389.5,645.6L400.8,648.8L412.0,652.7L422.9,657.5L429.4,661.4L430.7,663.0L431.0,665.2L430.1,667.1L427.0,668.9L416.4,671.6L405.2,673.5L389.9,675.1L321.9,680.6L290.6,682.0L140.0,684.8L140.0,709.8L309.5,705.7L327.8,704.6L375.8,700.4L402.1,698.8L416.8,697.4L429.8,695.5L441.3,693.0L450.6,690.2L458.9,686.8L464.6,683.5L469.3,679.4L472.5,674.6L474.2,669.6L474.4,664.5L473.2,659.6L470.6,654.7L466.2,649.4L460.6,644.7L452.8,639.5L444.3,634.9L434.8,630.6L415.4,623.5L396.4,617.9L348.3,606.8L312.4,598.0L295.4,594.5L280.1,592.8L262.7,592.5L247.9,593.4L212.3,597.1L193.2,597.6L173.9,596.8L140.0,594.1Z" fill="#FFD700" fill-opacity="0.3" fill-rule="evenodd"/>
<path d="M140.0,546.3L210.7,552.5L265.6,559.5L312.2,567.5L335.3,572.6L354.4,577.3L404.1,591.2L419.2,596.5L434.2,602.8L448.7,610.4L462.3,619.5L471.5,628.1L473.6,630.8L474.3,632.4L474.2,634.2L473.5,638.8L471.7,640.5L463.4,643.5L452.5,646.5L437.3,649.5L421.8,652.0L378.6,657.2L338.7,658.8L286.8,660.2L140.0,662.6L140.0,682.7L315.2,681.0L379.5,679.2L426.0,678.8L444.5,678.0L461.3,676.6L476.6,674.6L488.3,672.3L500.0,669.1L509.2,665.4L516.3,661.2L522.0,656.2L526.6,649.7L529.1,643.2L530.0,636.6L529.4,629.9L527.3,622.7L524.0,616.2L519.3,609.5L513.0,602.5L503.3,593.7L495.9,587.9L484.3,579.8L473.2,572.9L460.3,565.7L447.5,559.2L418.2,546.4L401.6,540.2L385.0,534.6L362.0,529.6L337.0,525.2L310.2,521.4L281.5,518.2L252.9,515.8L222.4,514.0L140.0,511.1Z" fill="#0000FF" fill-opacity="0.3" fill-rule="evenodd"/>
<path d="M140.0,429.0L191.0,431.8L230.6,434.7L266.2,438.0L301.7,442.3L333.1,446.9L364.5,452.5L403.8,460.6L431.4,467.6L454.9,474.8L478.3,483.5L497.6,492.2L516.7,502.8L531.7,513.3L542.7,523.2L548.4,529.6L552.0,534.7L554.6,539.9L555.6,544.6L555.2,546.5L553.9,547.9L550.8,549.6L544.0,552.1L533.2,554.8L502.0,559.9L470.3,562.6L394.5,567.3L318.6,570.7L234.8,573.1L140.0,574.7L140.0,594.7L253.2,592.7L349.4,589.5L439.6,584.7L526.3,578.4L538.8,576.9L549.7,575.1L559.0,572.8L566.8,569.8L572.5,566.5L577.6,562.2L581.2,557.4L583.6,551.9L584.6,544.1L583.5,536.4L580.1,527.4L574.9,518.5L567.9,509.6L558.1,499.5L547.3,490.0L534.6,480.5L519.9,471.1L501.3,460.5L485.0,452.1L468.7,444.5L450.5,436.8L430.2,429.1L407.9,421.5L385.7,414.7L363.0,410.4L336.3,406.2L307.7,402.6L279.2,399.6L218.4,395.2L140.0,391.9Z" fill="#FF0000" fill-opacity="0.3" fill-rule="evenodd"/>
<path d="M140.5,730.8L257.8,730.8L260.8,729.8L405.1,728.6L503.2,727.1L591.4,724.5L633.5,722.4L667.7,720.1L694.0,717.6L716.5,714.5L735.2,710.6L750.0,706.0L759.0,701.3L762.4,698.6L764.7,695.9L766.0,693.3L766.7,690.7L766.8,681.2L766.2,677.9L764.8,674.8L762.7,672.0L759.6,668.8L751.2,662.9L735.5,654.1L728.1,648.9L703.9,625.7L695.7,618.9L687.5,612.9L673.2,603.9L655.1,593.6L621.1,575.0L584.3,556.2L582.9,554.9L582.2,553.2L583.0,549.6L567.7,526.6L452.8,466.8L380.6,422.6L361.7,408.2L343.8,392.9L296.3,384.7L244.2,383.4L149.6,387.3L149.1,387.8L149.2,449.8L244.2,460.3L322.3,473.3L361.5,483.8L380.5,490.3L426.7,502.0L449.3,508.8L495.6,533.2L614.4,592.7L666.0,621.0L677.6,628.1L688.9,636.2L696.3,642.5L718.6,663.9L727.5,670.6L744.8,680.6L746.3,682.3L746.6,684.5L745.8,686.5L744.0,687.8L734.4,690.8L719.1,694.1L699.7,696.9L680.1,698.9L656.3,700.7L588.6,703.9L504.8,705.7L384.9,706.5L260.4,706.6L257.9,706.1L140.5,705.0L140.0,705.6L140.0,730.2Z" fill="#FFA500" fill-opacity="0.3" fill-rule="evenodd"/>
<path d="M255.7,352.1L270.5,360.0L296.5,370.4L335.5,384.7L375.0,395.3L452.9,434.2L505.0,457.7L568.0,481.1L599.5,496.6L601.5,496.2L604.1,496.6L691.9,542.1L699.7,546.8L711.3,554.7L741.2,579.1L754.1,588.0L762.6,593.0L773.2,598.1L805.6,611.0L820.9,618.2L832.1,624.5L838.4,628.7L844.6,633.9L846.5,636.9L846.3,639.0L845.1,640.7L840.1,643.8L831.9,647.2L821.0,650.2L809.5,652.3L793.9,654.4L758.3,657.4L702.5,660.6L674.8,661.3L514.9,662.1L350.5,661.9L304.8,666.9L269.2,674.3L304.8,681.4L350.5,685.4L353.5,684.4L541.1,683.0L669.1,681.3L697.4,680.5L777.8,675.1L800.2,672.6L818.7,669.6L833.6,665.9L840.1,663.6L846.6,660.6L851.1,657.8L854.8,654.8L857.7,651.5L859.5,648.5L860.9,644.0L861.3,637.2L860.8,631.6L859.3,627.1L856.6,622.8L852.9,618.8L847.7,614.2L841.3,609.8L830.9,603.7L820.6,598.5L780.6,581.8L765.3,574.1L757.7,569.3L750.0,563.7L718.0,537.1L697.7,523.1L604.6,469.9L545.1,437.4L505.0,413.3L453.0,379.5L416.5,353.5L398.4,344.4L367.0,339.9L358.8,340.0L353.8,338.2L351.9,339.9L350.3,340.2L322.5,340.9L283.6,344.3L255.7,351.7Z" fill="#DAA520" fill-opacity="0.3" fill-rule="evenodd"/>
<path d="M413.0,272.8L426.9,280.4L453.0,290.9L505.0,314.3L567.7,340.2L570.0,340.8L694.4,406.8L758.4,441.1L778.0,452.1L789.4,459.6L797.1,465.5L831.1,495.8L841.7,504.0L850.4,509.5L859.1,514.0L869.9,518.3L880.4,521.5L903.9,527.5L915.1,531.8L934.4,541.2L945.7,547.7L951.3,551.6L952.5,553.2L952.8,555.2L952.1,557.1L950.4,558.4L948.0,559.4L938.7,562.1L927.4,564.2L912.0,566.1L848.1,572.1L828.5,573.5L736.7,576.3L672.9,577.5L589.0,578.1L457.9,578.1L457.4,578.6L457.5,599.5L585.0,599.1L675.1,598.1L741.3,596.5L835.6,593.0L916.0,585.3L936.7,582.2L947.5,579.4L957.3,575.4L963.9,571.1L967.9,566.2L969.4,561.8L969.4,552.5L968.9,548.9L967.6,545.9L964.9,541.8L961.0,537.8L955.4,533.2L949.1,529.1L932.7,520.1L914.0,511.5L905.3,508.6L873.9,500.2L862.7,495.9L855.3,492.1L847.6,487.3L839.7,481.3L801.6,447.6L793.3,441.4L783.1,434.7L764.9,424.4L702.9,391.2L574.9,315.8L519.6,286.2L505.0,277.8L479.2,264.9L473.6,263.5L462.7,258.6L460.9,261.0L459.0,261.8L427.2,264.7L413.0,272.3Z" fill="#00008B" fill-opacity="0.3" fill-rule="evenodd"/>
<path d="M499.0,240.4L510.5,249.2L567.7,275.0L570.2,274.0L572.7,274.4L647.7,313.6L780.4,385.3L820.8,405.7L868.8,428.2L888.4,438.4L900.2,445.0L959.8,480.7L971.3,488.5L985.4,499.7L993.9,505.8L1021.6,521.4L1023.3,523.3L1023.6,525.3L1022.9,527.2L1021.3,528.5L1015.5,530.9L1000.8,534.9L985.4,537.7L965.9,540.3L946.1,542.3L886.5,546.2L818.8,548.5L710.9,550.1L531.3,550.9L528.0,549.7L508.6,553.1L507.5,553.7L499.6,562.1L499.6,562.8L507.5,571.7L508.8,572.3L530.6,573.7L533.1,570.9L534.9,570.5L671.1,568.9L787.1,566.5L861.2,564.1L917.4,560.8L945.5,558.5L967.6,556.1L987.9,553.2L1004.2,549.9L1016.6,546.5L1026.0,542.7L1032.7,538.4L1035.3,535.8L1037.0,533.3L1038.6,527.9L1038.7,524.6L1038.1,521.4L1035.5,516.1L1030.8,511.0L1023.4,505.6L999.5,492.6L991.9,487.2L973.7,472.9L955.6,461.0L903.7,429.7L883.7,418.5L869.5,411.3L815.8,385.4L776.2,364.2L643.3,288.2L593.6,260.6L560.1,242.5L544.5,232.4L537.5,230.8L532.1,228.1L530.6,229.1L525.6,228.8L510.8,230.8L499.0,239.6Z" fill="#00BFFF" fill-opacity="0.3" fill-rule="evenodd"/>
<path d="M120.0,628.9L193.0,620.5L249.0,613.4L283.0,608.2L297.0,605.6L309.0,603.0L319.0,600.3L329.0,596.9L337.0,593.5L344.4,589.2L349.9,584.9L351.8,583.0L353.8,580.4L355.0,578.3L356.1,575.7L356.8,573.0L357.1,570.2L356.8,566.8L355.9,563.3L354.4,559.6L352.6,556.4L349.9,552.5L347.0,549.0L339.0,540.8L327.0,530.4L313.0,519.7L295.0,507.0L275.0,493.9L257.0,482.9L239.0,472.6L221.0,462.9L201.0,453.0L185.0,445.6L167.0,438.0L120.0,420.0" fill="none" stroke="#808080" stroke-width="5.2" stroke-linejoin="round" stroke-linecap="square"/>
<path d="M120.0,700.3L213.0,697.9L285.0,696.5L305.0,695.9L327.0,694.6L365.0,691.1L399.0,688.4L411.0,686.9L421.0,685.2L431.0,682.8L439.0,680.2L445.4,677.2L448.0,675.6L450.6,673.6L452.2,672.0L453.4,670.3L454.1,668.6L454.5,666.6L454.3,664.8L453.9,663.3L451.9,659.8L448.5,656.0L443.7,651.9L439.0,648.8L433.0,645.5L425.0,641.9L417.0,638.8L405.0,634.9L393.0,631.6L353.0,622.5L307.0,610.9L293.0,607.8L285.0,606.6L277.0,605.8L271.0,605.5L263.0,605.5L251.0,606.2L215.0,609.5L203.0,610.0L193.0,610.0L183.0,609.7L171.0,608.9L120.0,604.5" fill="none" stroke="#FFD700" stroke-width="5.2" stroke-linejoin="round" stroke-linecap="square"/>
<path d="M120.0,672.8L245.0,671.9L329.0,670.7L361.0,669.8L389.0,668.8L413.0,667.4L433.0,665.8L451.0,663.8L465.0,661.5L477.0,658.8L483.0,656.9L487.0,655.4L491.0,653.6L495.0,651.4L497.8,649.4L500.5,646.8L502.3,644.6L503.8,641.7L504.6,639.3L505.0,636.1L504.5,631.6L502.9,626.9L500.1,621.9L496.2,616.5L491.0,610.9L485.0,605.5L479.0,600.8L471.0,595.2L463.0,590.2L453.0,584.6L443.0,579.5L433.0,575.0L423.0,570.8L411.0,566.2L399.0,562.1L385.0,557.7L373.0,554.3L359.0,550.6L333.0,544.8L305.0,539.5L273.0,534.6L241.0,530.6L205.0,527.0L169.0,524.1L120.0,521.0" fill="none" stroke="#0000FF" stroke-width="5.2" stroke-linejoin="round" stroke-linecap="square"/>
<path d="M120.0,585.0L185.0,584.1L237.0,583.0L285.0,581.8L331.0,580.2L377.0,578.2L421.0,575.8L465.0,573.0L501.0,570.2L521.0,568.2L535.0,566.3L547.0,563.9L555.0,561.6L559.0,559.9L562.1,558.3L564.6,556.6L566.7,554.7L568.3,552.6L569.5,550.4L570.3,547.9L570.6,544.8L570.5,542.0L570.0,539.6L568.0,533.8L564.6,527.5L559.7,520.6L553.0,513.1L547.0,507.3L539.0,500.5L529.0,493.1L519.0,486.5L509.0,480.6L499.0,475.3L487.0,469.5L475.0,464.2L461.0,458.6L447.0,453.5L433.0,448.9L419.0,444.6L403.0,440.2L387.0,436.2L371.0,432.5L355.0,429.1L337.0,425.7L319.0,422.6L299.0,419.4L261.0,414.4L219.0,409.9L177.0,406.4L120.0,402.7" fill="none" stroke="#FF0000" stroke-width="5.2" stroke-linejoin="round" stroke-linecap="square"/>
<path d="M254.1,718.3L411.0,717.7L515.0,716.5L555.0,715.6L589.0,714.6L625.0,713.0L655.0,711.3L681.0,709.3L701.0,707.2L719.0,704.5L733.0,701.7L745.0,698.3L750.6,696.1L754.8,694.0L757.6,692.2L760.0,690.0L761.4,687.8L761.9,685.4L761.5,683.0L760.5,680.9L758.7,678.7L755.8,676.0L749.9,671.9L735.0,663.4L729.0,659.4L721.0,652.6L705.0,636.9L697.0,629.9L691.0,625.2L685.0,621.1L677.0,615.9L669.0,611.2L655.0,603.3L621.0,584.9L581.0,564.7L545.0,546.1L375.0,456.4L254.1,393.4" fill="none" stroke="#FFA500" stroke-width="5.2" stroke-linejoin="round" stroke-linecap="square"/>
<path d="M348.5,673.2L519.0,672.7L675.0,671.2L705.0,670.3L759.0,667.0L783.0,665.1L803.0,662.8L819.0,660.2L831.0,657.2L837.0,655.3L841.0,653.6L845.6,651.3L849.5,648.9L852.4,646.3L854.6,643.7L855.8,641.0L856.3,638.3L856.1,635.9L855.2,633.4L853.8,630.8L852.1,628.7L849.5,626.0L846.8,623.7L839.0,618.1L829.0,612.2L819.0,607.1L809.0,602.7L779.0,590.6L769.0,585.8L761.0,581.4L755.0,577.5L747.0,571.7L725.0,553.2L715.0,545.5L703.0,537.3L691.0,530.0L637.0,501.0L547.0,451.7L499.0,426.0L433.0,391.6L348.5,348.6" fill="none" stroke="#DAA520" stroke-width="5.2" stroke-linejoin="round" stroke-linecap="square"/>
<path d="M457.4,588.7L593.0,588.6L677.0,587.9L741.0,586.5L821.0,584.0L835.0,583.4L849.0,582.3L881.0,579.0L915.0,576.0L927.0,574.5L937.0,572.7L943.0,571.3L949.0,569.5L953.8,567.6L957.4,565.8L960.7,563.6L963.1,561.3L964.6,559.0L965.2,556.4L964.7,553.6L963.1,550.6L960.3,547.3L956.9,544.2L952.4,540.8L947.0,537.3L941.0,533.8L933.0,529.6L919.0,522.9L909.0,518.8L901.0,516.5L881.0,511.5L869.0,507.6L859.0,503.3L851.0,498.8L843.0,493.4L835.0,487.0L809.0,463.5L799.0,455.2L793.0,450.7L787.0,446.6L773.0,438.2L685.0,390.7L577.0,331.1L543.0,312.6L519.0,300.1L497.0,288.9L477.0,279.2L457.4,270.2" fill="none" stroke="#00008B" stroke-width="5.2" stroke-linejoin="round" stroke-linecap="square"/>
<path d="M527.4,561.8L671.0,561.0L735.0,560.3L793.0,559.4L833.0,558.5L865.0,557.5L893.0,556.1L925.0,554.2L951.0,552.1L973.0,549.7L991.0,547.0L1007.0,543.7L1013.0,542.1L1019.0,540.1L1023.8,538.1L1027.9,535.9L1031.1,533.6L1033.3,531.3L1034.7,528.8L1035.2,526.2L1035.0,524.3L1034.6,522.7L1032.5,519.1L1028.9,515.4L1024.4,512.0L1019.0,508.7L1003.0,500.2L997.0,496.5L989.0,490.7L975.0,479.7L961.0,470.2L899.0,433.3L875.0,420.5L823.0,396.0L805.0,387.0L787.0,377.7L755.0,360.4L677.0,317.0L633.0,292.9L581.0,265.2L527.4,237.3" fill="none" stroke="#00BFFF" stroke-width="5.2" stroke-linejoin="round" stroke-linecap="square"/>
<line x1="380.6" y1="96.1" x2="380.6" y2="765.7" stroke="#000" stroke-width="5.2"/>
<line x1="568.2" y1="96.1" x2="568.2" y2="765.7" stroke="#000" stroke-width="5.2"/>
</g>
<text transform="translate(406.4,225.3) rotate(-90)" font-size="25.4" font-weight="bold"><tspan x="0" y="0">45 mas</tspan><tspan x="0" y="29.4">at 10 pc</tspan></text>
<text transform="translate(594.0,225.3) rotate(-90)" font-size="25.4" font-weight="bold"><tspan x="0" y="0">150 mas</tspan><tspan x="0" y="29.4">at 10 pc</tspan></text>
<rect x="146.8" y="96.1" width="898.6" height="669.6" fill="none" stroke="#000" stroke-width="5.2"/>
<line x1="136.9" y1="741.6" x2="144.2" y2="741.6" stroke="#000" stroke-width="2.1"/>
<text x="129.2" y="751.6" text-anchor="end" font-size="25.4" font-weight="bold">20</text>
<line x1="136.9" y1="617.4" x2="144.2" y2="617.4" stroke="#000" stroke-width="2.1"/>
<text x="129.2" y="627.4" text-anchor="end" font-size="25.4" font-weight="bold">25</text>
<line x1="136.9" y1="493.2" x2="144.2" y2="493.2" stroke="#000" stroke-width="2.1"/>
<text x="129.2" y="503.2" text-anchor="end" font-size="25.4" font-weight="bold">30</text>
<line x1="136.9" y1="369.0" x2="144.2" y2="369.0" stroke="#000" stroke-width="2.1"/>
<text x="129.2" y="379.0" text-anchor="end" font-size="25.4" font-weight="bold">35</text>
<line x1="136.9" y1="244.8" x2="144.2" y2="244.8" stroke="#000" stroke-width="2.1"/>
<text x="129.2" y="254.8" text-anchor="end" font-size="25.4" font-weight="bold">40</text>
<line x1="136.9" y1="120.6" x2="144.2" y2="120.6" stroke="#000" stroke-width="2.1"/>
<text x="129.2" y="130.6" text-anchor="end" font-size="25.4" font-weight="bold">45</text>
<line x1="146.3" y1="768.3" x2="146.3" y2="775.6" stroke="#000" stroke-width="2.1"/>
<text x="115.5" y="803.0" font-size="25.4" font-weight="bold">10<tspan dy="-9.6" font-size="17.7">−1</tspan></text>
<line x1="254.3" y1="768.3" x2="254.3" y2="772.5" stroke="#000" stroke-width="1.25"/>
<line x1="317.4" y1="768.3" x2="317.4" y2="772.5" stroke="#000" stroke-width="1.25"/>
<line x1="362.3" y1="768.3" x2="362.3" y2="772.5" stroke="#000" stroke-width="1.25"/>
<line x1="397.0" y1="768.3" x2="397.0" y2="772.5" stroke="#000" stroke-width="1.25"/>
<line x1="425.4" y1="768.3" x2="425.4" y2="772.5" stroke="#000" stroke-width="1.25"/>
<line x1="449.4" y1="768.3" x2="449.4" y2="772.5" stroke="#000" stroke-width="1.25"/>
<line x1="470.2" y1="768.3" x2="470.2" y2="772.5" stroke="#000" stroke-width="1.25"/>
<line x1="488.6" y1="768.3" x2="488.6" y2="772.5" stroke="#000" stroke-width="1.25"/>
<line x1="505.0" y1="768.3" x2="505.0" y2="775.6" stroke="#000" stroke-width="2.1"/>
<text x="481.5" y="803.0" font-size="25.4" font-weight="bold">10<tspan dy="-9.6" font-size="17.7">0</tspan></text>
<line x1="613.0" y1="768.3" x2="613.0" y2="772.5" stroke="#000" stroke-width="1.25"/>
<line x1="676.1" y1="768.3" x2="676.1" y2="772.5" stroke="#000" stroke-width="1.25"/>
<line x1="721.0" y1="768.3" x2="721.0" y2="772.5" stroke="#000" stroke-width="1.25"/>
<line x1="755.7" y1="768.3" x2="755.7" y2="772.5" stroke="#000" stroke-width="1.25"/>
<line x1="784.1" y1="768.3" x2="784.1" y2="772.5" stroke="#000" stroke-width="1.25"/>
<line x1="808.1" y1="768.3" x2="808.1" y2="772.5" stroke="#000" stroke-width="1.25"/>
<line x1="828.9" y1="768.3" x2="828.9" y2="772.5" stroke="#000" stroke-width="1.25"/>
<line x1="847.3" y1="768.3" x2="847.3" y2="772.5" stroke="#000" stroke-width="1.25"/>
<line x1="863.7" y1="768.3" x2="863.7" y2="775.6" stroke="#000" stroke-width="2.1"/>
<text x="840.2" y="803.0" font-size="25.4" font-weight="bold">10<tspan dy="-9.6" font-size="17.7">1</tspan></text>
<line x1="971.7" y1="768.3" x2="971.7" y2="772.5" stroke="#000" stroke-width="1.25"/>
<line x1="1034.8" y1="768.3" x2="1034.8" y2="772.5" stroke="#000" stroke-width="1.25"/>
<text x="595.7" y="837" text-anchor="middle" font-size="25.3" font-weight="bold">Projected Planet-Star Separation, <tspan font-style="italic">s</tspan>, in AU</text>
<text transform="translate(78.6,430.9) rotate(-90)" text-anchor="middle" font-size="25.4" font-weight="bold">Planet-Star Δmag</text>
<text x="443.6" y="81.5" font-size="30.55" font-weight="bold">Inclination: 87.8<tspan dx="5" dy="-11" font-size="21" font-weight="bold">∘</tspan></text>
<rect x="820.8" y="108.4" width="212.0" height="303.6" rx="5" ry="5" fill="#fff" fill-opacity="0.8" stroke="#ccc" stroke-opacity="0.9" stroke-width="2.2"/>
<line x1="828.6" y1="129.1" x2="884.1" y2="129.1" stroke="#808080" stroke-width="5.2"/>
<text x="901.0" y="138.4" font-size="25.4" font-weight="bold">Mercury</text>
<line x1="828.6" y1="166.1" x2="884.1" y2="166.1" stroke="#FFD700" stroke-width="5.2"/>
<text x="901.0" y="175.4" font-size="25.4" font-weight="bold">Venus</text>
<line x1="828.6" y1="203.0" x2="884.1" y2="203.0" stroke="#0000FF" stroke-width="5.2"/>
<text x="901.0" y="212.3" font-size="25.4" font-weight="bold">Earth</text>
<line x1="828.6" y1="240.0" x2="884.1" y2="240.0" stroke="#FF0000" stroke-width="5.2"/>
<text x="901.0" y="249.3" font-size="25.4" font-weight="bold">Mars</text>
<line x1="828.6" y1="276.9" x2="884.1" y2="276.9" stroke="#FFA500" stroke-width="5.2"/>
<text x="901.0" y="286.2" font-size="25.4" font-weight="bold">Jupiter</text>
<line x1="828.6" y1="313.9" x2="884.1" y2="313.9" stroke="#DAA520" stroke-width="5.2"/>
<text x="901.0" y="323.2" font-size="25.4" font-weight="bold">Saturn</text>
<line x1="828.6" y1="350.9" x2="884.1" y2="350.9" stroke="#00008B" stroke-width="5.2"/>
<text x="901.0" y="360.2" font-size="25.4" font-weight="bold">Uranus</text>
<line x1="828.6" y1="387.8" x2="884.1" y2="387.8" stroke="#00BFFF" stroke-width="5.2"/>
<text x="901.0" y="397.1" font-size="25.4" font-weight="bold">Neptune</text>
</g>
<text class="pl" x="-3.2" y="930.5" font-size="56" stroke="#000" stroke-width="0.5">(c)</text>
<g transform="translate(1124.9,870.0)">
<clipPath id="cp3"><rect x="146.8" y="96.1" width="898.6" height="669.6"/></clipPath>
<g clip-path="url(#cp3)">
<path d="M149.2,599.1L149.2,629.9L149.8,630.4L218.4,629.9L296.5,624.7L348.5,616.9L379.8,606.5L400.4,593.7L411.1,572.9L411.3,557.3L400.7,535.8L374.7,507.3L348.8,476.1L327.5,455.0L306.6,446.0L192.3,440.9L149.7,442.1L149.2,442.7L149.4,515.1L192.3,530.8L231.5,546.5L256.7,559.1L263.7,566.6L264.6,568.6L264.3,570.8L263.0,572.5L256.7,576.6L231.3,583.0L192.2,590.8L149.7,598.5Z" fill="#808080" fill-opacity="0.3" fill-rule="evenodd"/>
<path d="M158.2,612.2L191.9,616.3L226.1,619.2L260.3,620.9L290.5,621.0L329.6,630.9L384.0,643.3L395.4,646.5L410.2,651.7L420.9,656.6L428.2,661.5L429.4,663.1L429.6,665.1L428.7,668.3L425.4,670.2L414.7,673.2L399.6,675.6L316.3,683.0L277.8,684.5L244.3,686.5L227.6,688.1L194.1,692.1L161.2,697.4L210.9,703.6L244.3,706.3L261.1,707.2L300.1,707.9L332.0,706.0L414.9,698.5L437.0,695.4L456.7,691.6L466.9,688.5L471.2,686.4L474.6,684.1L479.8,678.4L482.0,674.1L483.0,670.7L483.5,665.6L482.6,660.4L480.3,654.9L477.0,650.4L472.6,646.2L467.2,642.4L459.9,638.5L452.2,635.0L437.9,630.0L413.2,623.0L369.8,613.5L318.2,600.5L303.7,597.4L297.3,596.4L294.6,597.3L277.5,598.0L243.2,600.6L191.9,606.8ZM295.0,708.1L295.0,708.1L295.0,708.0Z" fill="#FFD700" fill-opacity="0.3" fill-rule="evenodd"/>
<path d="M256.7,548.5L278.4,554.1L300.6,558.5L322.8,561.3L339.3,562.1L370.6,570.6L397.5,579.5L412.7,585.6L427.6,592.5L438.6,598.4L449.3,604.9L459.5,612.4L466.1,618.2L474.0,627.5L475.3,630.9L474.0,635.7L475.1,640.2L474.4,642.4L472.5,643.8L462.3,647.0L451.0,649.4L431.7,652.1L408.2,654.1L376.5,656.0L334.3,657.5L312.9,659.4L302.1,661.0L280.7,665.0L259.7,670.4L280.7,674.8L302.2,678.3L323.6,680.6L345.4,681.7L399.6,679.5L438.1,676.7L458.8,674.3L475.8,671.6L492.2,668.1L505.6,664.1L513.7,660.4L519.7,656.2L524.7,650.4L527.6,644.4L528.8,639.2L528.9,633.8L528.1,628.8L526.1,623.0L523.3,617.8L519.3,612.2L513.9,606.3L507.8,600.8L501.3,595.7L491.4,588.8L470.9,576.9L449.2,566.7L423.8,556.8L407.2,551.2L388.6,545.8L368.0,540.5L348.2,536.0L345.7,536.6L322.9,537.7L300.6,540.2L278.4,543.8Z" fill="#0000FF" fill-opacity="0.3" fill-rule="evenodd"/>
<path d="M361.3,443.6L373.3,448.9L385.7,453.0L398.2,455.7L406.9,456.7L438.2,466.3L465.3,476.5L488.2,487.1L499.5,493.3L510.5,500.1L521.4,507.8L528.6,513.7L538.6,523.5L543.8,529.9L547.8,536.5L549.8,542.1L549.8,546.4L548.9,548.2L547.3,549.4L541.9,551.2L531.1,553.5L511.7,556.1L488.0,558.5L399.0,565.0L393.1,565.9L381.4,568.8L369.7,572.9L364.2,575.2L364.2,575.6L375.6,579.9L387.3,583.3L399.1,585.7L410.8,586.8L416.2,586.8L463.7,583.5L508.0,579.9L540.8,575.9L551.7,573.7L562.1,570.7L569.7,567.6L575.4,564.1L579.8,560.1L583.2,555.1L584.8,551.1L585.6,546.0L585.4,541.0L584.1,535.3L582.0,529.8L579.1,524.5L575.1,518.4L570.1,512.3L557.7,499.9L542.3,487.7L525.2,476.5L506.3,466.2L487.6,457.5L466.9,449.2L444.4,441.3L418.7,433.5L416.2,432.2L404.5,432.5L392.0,434.3L373.3,439.0L361.3,443.1Z" fill="#FF0000" fill-opacity="0.3" fill-rule="evenodd"/>
<path d="M598.3,585.1L618.1,595.1L654.0,614.6L669.6,623.6L681.1,630.9L688.7,636.4L696.0,642.6L714.0,660.2L720.6,665.9L729.6,672.2L744.1,680.5L745.7,682.2L746.1,684.4L745.2,686.4L743.4,687.7L737.9,689.5L722.9,693.1L703.6,696.3L664.2,700.1L599.7,703.9L596.8,705.1L594.8,706.8L593.3,709.0L592.4,711.5L592.1,714.2L592.5,716.9L593.6,719.4L596.8,722.8L599.7,724.0L602.7,724.3L645.6,722.2L683.9,719.3L712.5,715.9L733.2,711.9L748.1,707.5L758.0,702.8L761.6,700.0L764.1,697.2L765.4,694.6L766.1,692.0L765.4,685.2L766.0,679.4L764.9,674.8L762.0,670.6L758.7,667.4L753.9,663.9L735.8,653.7L728.4,648.6L720.5,641.5L704.2,625.3L696.0,618.4L687.8,612.4L665.4,598.7L623.2,575.7L610.3,569.1L607.3,566.7L604.9,565.6L601.8,565.2L597.3,566.5L594.8,568.4L592.5,572.6L592.1,575.8L593.3,580.5L595.2,583.0Z" fill="#FFA500" fill-opacity="0.3" fill-rule="evenodd"/>
<path d="M691.6,542.4L710.9,555.3L740.7,579.8L755.6,590.2L772.7,599.2L805.0,612.3L820.3,619.3L827.9,623.4L837.6,629.6L843.2,634.2L844.7,636.6L844.5,638.9L843.1,640.7L835.2,644.8L824.3,648.2L809.3,651.3L789.9,653.8L770.2,655.6L695.3,660.4L693.7,661.4L692.1,663.4L690.7,667.7L690.5,670.4L691.3,675.9L692.3,678.1L694.6,680.4L697.3,680.9L703.5,680.7L765.7,676.8L792.1,674.4L812.6,671.6L827.4,668.6L840.4,664.3L846.9,661.3L850.8,658.8L854.5,655.7L857.5,652.3L859.5,648.4L860.2,644.4L859.8,638.0L860.1,631.9L859.1,627.2L856.7,622.7L853.2,618.4L847.9,613.7L841.7,609.2L831.3,603.0L820.9,597.6L810.6,593.0L777.1,579.4L761.9,571.6L754.1,566.5L746.3,560.6L718.0,537.1L697.6,523.3L695.3,523.3L693.7,524.2L692.3,525.9L691.2,528.4L690.5,533.5Z" fill="#DAA520" fill-opacity="0.3" fill-rule="evenodd"/>
<path d="M799.1,468.5L830.5,496.6L841.2,504.7L849.9,510.2L858.8,514.7L869.7,518.9L880.3,522.1L903.7,528.1L914.8,532.4L930.2,539.8L941.7,546.2L949.6,551.6L950.9,553.2L951.2,555.3L950.3,557.2L948.7,558.4L942.2,560.7L931.2,563.2L919.8,564.9L840.2,572.5L805.6,574.0L804.3,574.8L803.3,576.9L802.4,584.3L803.2,591.6L804.0,593.6L805.0,594.6L825.4,594.1L843.8,593.0L914.0,586.3L930.6,584.2L943.4,581.5L954.5,577.8L962.6,573.2L965.4,570.6L967.6,567.8L969.0,564.6L969.4,561.3L968.8,556.1L969.2,550.0L967.6,544.9L964.3,540.2L959.5,535.5L953.7,531.1L945.4,525.8L929.0,517.2L912.2,509.7L903.5,506.8L874.3,499.2L863.2,495.0L855.8,491.3L848.0,486.5L840.2,480.7L832.3,474.1L811.0,454.6L808.5,453.7L805.7,450.3L804.3,451.0L803.3,453.1L802.5,457.8L802.4,462.2L801.5,464.9L799.0,467.8Z" fill="#00008B" fill-opacity="0.3" fill-rule="evenodd"/>
<path d="M871.1,430.2L895.9,443.5L955.5,479.0L967.0,486.7L991.3,505.2L1000.0,510.4L1019.2,520.9L1021.6,523.3L1021.9,525.3L1021.2,527.3L1019.6,528.6L1011.7,531.5L996.9,535.3L977.6,538.5L957.9,540.8L934.2,543.0L875.4,546.5L874.9,546.7L873.9,549.5L873.3,556.3L873.9,563.3L875.1,566.0L901.5,564.9L941.7,562.0L968.0,559.4L990.5,556.2L1009.1,552.3L1022.0,548.1L1030.8,543.5L1034.3,540.7L1036.6,537.9L1038.2,535.0L1038.8,532.2L1038.7,519.9L1037.0,514.7L1033.1,509.5L1024.9,502.9L1005.0,492.2L997.3,487.6L977.4,472.1L967.2,465.0L902.9,426.5L882.6,415.5L875.3,412.1L874.6,412.8L874.0,414.7L873.4,423.5L873.0,425.4L870.9,429.5Z" fill="#00BFFF" fill-opacity="0.3" fill-rule="evenodd"/>
<path d="M197.2,620.0L247.0,613.7L279.0,608.9L291.0,606.8L303.0,604.4L313.0,602.0L321.0,599.7L329.0,596.9L337.0,593.5L343.0,590.2L347.7,586.9L351.8,583.0L354.7,578.9L356.5,574.6L357.1,570.2L356.9,567.4L356.5,565.0L354.7,560.2L351.8,555.1L347.7,549.7L343.0,544.7L335.0,537.1L325.0,528.8L315.0,521.2L301.0,511.1L287.0,501.7L273.0,492.6L257.0,482.9L243.0,474.8L227.0,466.0L213.0,458.8L197.2,451.2" fill="none" stroke="#808080" stroke-width="5.2" stroke-linejoin="round" stroke-linecap="square"/>
<path d="M294.6,696.3L323.0,694.9L367.0,691.0L393.0,688.9L407.0,687.5L419.0,685.6L427.0,683.9L433.0,682.2L439.0,680.2L444.9,677.5L449.0,674.9L451.9,672.3L453.7,669.6L454.2,668.3L454.5,666.6L454.3,664.8L453.9,663.3L451.9,659.8L448.5,656.0L444.3,652.4L439.0,648.8L433.0,645.5L427.0,642.7L419.0,639.5L407.0,635.5L395.0,632.1L351.0,622.0L307.0,610.9L294.6,608.1" fill="none" stroke="#FFD700" stroke-width="5.2" stroke-linejoin="round" stroke-linecap="square"/>
<path d="M345.1,670.3L387.0,668.9L421.0,666.9L435.0,665.7L449.0,664.1L459.0,662.6L469.0,660.7L477.0,658.8L485.0,656.2L491.0,653.6L496.2,650.6L499.7,647.7L502.6,644.1L504.4,640.3L505.0,636.1L504.8,633.4L504.2,630.5L502.0,625.0L500.1,621.9L497.8,618.6L492.4,612.4L485.0,605.5L477.0,599.3L467.0,592.6L457.0,586.7L445.0,580.5L433.0,575.0L421.0,570.0L407.0,564.8L393.0,560.1L377.0,555.4L361.0,551.1L345.1,547.4" fill="none" stroke="#0000FF" stroke-width="5.2" stroke-linejoin="round" stroke-linecap="square"/>
<path d="M410.8,576.4L457.0,573.6L497.0,570.5L523.0,567.9L533.0,566.6L541.0,565.2L549.0,563.4L555.0,561.6L559.7,559.6L563.6,557.3L566.7,554.7L568.8,551.7L570.2,548.4L570.6,544.8L570.5,542.0L569.9,539.0L568.8,535.8L567.4,532.5L565.5,528.9L563.1,525.3L557.7,518.2L551.0,511.1L543.0,503.8L533.0,495.9L523.0,489.1L511.0,481.8L499.0,475.3L487.0,469.5L473.0,463.4L459.0,457.8L443.0,452.2L427.0,447.0L410.8,442.3" fill="none" stroke="#FF0000" stroke-width="5.2" stroke-linejoin="round" stroke-linecap="square"/>
<path d="M602.1,714.0L643.0,712.0L675.0,709.8L699.0,707.5L719.0,704.5L729.0,702.6L737.0,700.7L745.0,698.3L751.3,695.8L755.8,693.4L759.1,691.0L761.1,688.4L761.6,687.1L761.9,685.4L761.5,683.0L760.5,680.9L758.7,678.7L756.3,676.4L753.1,674.0L749.2,671.5L733.0,662.1L727.0,657.8L721.0,652.6L707.0,638.8L701.0,633.2L695.0,628.3L687.0,622.4L675.0,614.7L659.0,605.5L621.0,584.9L602.1,575.4" fill="none" stroke="#FFA500" stroke-width="5.2" stroke-linejoin="round" stroke-linecap="square"/>
<path d="M696.5,670.7L747.0,667.8L777.0,665.6L801.0,663.1L811.0,661.6L819.0,660.2L827.0,658.3L835.0,656.0L841.0,653.6L846.2,651.0L850.4,648.2L853.8,644.8L855.6,641.8L856.1,640.3L856.3,638.3L856.1,635.9L855.2,633.4L853.8,630.8L852.1,628.7L849.5,626.0L846.8,623.7L839.0,618.1L829.0,612.2L819.0,607.1L809.0,602.7L779.0,590.6L769.0,585.8L761.0,581.4L755.0,577.5L747.0,571.7L725.0,553.2L717.0,547.0L707.0,539.9L696.5,533.2" fill="none" stroke="#DAA520" stroke-width="5.2" stroke-linejoin="round" stroke-linecap="square"/>
<path d="M805.4,584.5L829.0,583.7L845.0,582.6L881.0,579.0L915.0,576.0L925.0,574.8L933.0,573.5L941.0,571.8L947.0,570.2L951.7,568.5L956.3,566.4L959.9,564.2L962.8,561.6L964.6,559.0L965.2,556.4L964.7,553.6L963.1,550.6L960.3,547.3L956.9,544.2L952.4,540.8L947.0,537.3L941.0,533.8L933.0,529.6L921.0,523.8L911.0,519.6L903.0,517.0L883.0,512.0L873.0,509.0L863.0,505.2L857.0,502.2L853.0,500.0L845.0,494.8L835.0,487.0L805.4,460.4" fill="none" stroke="#00008B" stroke-width="5.2" stroke-linejoin="round" stroke-linecap="square"/>
<path d="M875.3,557.0L915.0,554.8L949.0,552.3L975.0,549.4L987.0,547.7L997.0,545.9L1005.0,544.2L1013.0,542.1L1019.0,540.1L1025.7,537.2L1029.8,534.6L1032.8,532.0L1034.6,529.2L1035.2,526.2L1035.0,524.3L1034.6,522.7L1032.5,519.1L1028.9,515.4L1023.8,511.5L1017.0,507.6L1005.0,501.3L997.0,496.5L991.0,492.3L979.0,482.7L973.0,478.2L965.0,472.8L957.0,467.7L901.0,434.5L889.0,427.9L875.3,420.7" fill="none" stroke="#00BFFF" stroke-width="5.2" stroke-linejoin="round" stroke-linecap="square"/>
<line x1="380.6" y1="96.1" x2="380.6" y2="765.7" stroke="#000" stroke-width="5.2"/>
<line x1="568.2" y1="96.1" x2="568.2" y2="765.7" stroke="#000" stroke-width="5.2"/>
</g>
<text transform="translate(406.4,225.3) rotate(-90)" font-size="25.4" font-weight="bold"><tspan x="0" y="0">45 mas</tspan><tspan x="0" y="29.4">at 10 pc</tspan></text>
<text transform="translate(594.0,225.3) rotate(-90)" font-size="25.4" font-weight="bold"><tspan x="0" y="0">150 mas</tspan><tspan x="0" y="29.4">at 10 pc</tspan></text>
<rect x="146.8" y="96.1" width="898.6" height="669.6" fill="none" stroke="#000" stroke-width="5.2"/>
<line x1="136.9" y1="741.6" x2="144.2" y2="741.6" stroke="#000" stroke-width="2.1"/>
<text x="129.2" y="751.6" text-anchor="end" font-size="25.4" font-weight="bold">20</text>
<line x1="136.9" y1="617.4" x2="144.2" y2="617.4" stroke="#000" stroke-width="2.1"/>
<text x="129.2" y="627.4" text-anchor="end" font-size="25.4" font-weight="bold">25</text>
<line x1="136.9" y1="493.2" x2="144.2" y2="493.2" stroke="#000" stroke-width="2.1"/>
<text x="129.2" y="503.2" text-anchor="end" font-size="25.4" font-weight="bold">30</text>
<line x1="136.9" y1="369.0" x2="144.2" y2="369.0" stroke="#000" stroke-width="2.1"/>
<text x="129.2" y="379.0" text-anchor="end" font-size="25.4" font-weight="bold">35</text>
<line x1="136.9" y1="244.8" x2="144.2" y2="244.8" stroke="#000" stroke-width="2.1"/>
<text x="129.2" y="254.8" text-anchor="end" font-size="25.4" font-weight="bold">40</text>
<line x1="136.9" y1="120.6" x2="144.2" y2="120.6" stroke="#000" stroke-width="2.1"/>
<text x="129.2" y="130.6" text-anchor="end" font-size="25.4" font-weight="bold">45</text>
<line x1="146.3" y1="768.3" x2="146.3" y2="775.6" stroke="#000" stroke-width="2.1"/>
<text x="115.5" y="803.0" font-size="25.4" font-weight="bold">10<tspan dy="-9.6" font-size="17.7">−1</tspan></text>
<line x1="254.3" y1="768.3" x2="254.3" y2="772.5" stroke="#000" stroke-width="1.25"/>
<line x1="317.4" y1="768.3" x2="317.4" y2="772.5" stroke="#000" stroke-width="1.25"/>
<line x1="362.3" y1="768.3" x2="362.3" y2="772.5" stroke="#000" stroke-width="1.25"/>
<line x1="397.0" y1="768.3" x2="397.0" y2="772.5" stroke="#000" stroke-width="1.25"/>
<line x1="425.4" y1="768.3" x2="425.4" y2="772.5" stroke="#000" stroke-width="1.25"/>
<line x1="449.4" y1="768.3" x2="449.4" y2="772.5" stroke="#000" stroke-width="1.25"/>
<line x1="470.2" y1="768.3" x2="470.2" y2="772.5" stroke="#000" stroke-width="1.25"/>
<line x1="488.6" y1="768.3" x2="488.6" y2="772.5" stroke="#000" stroke-width="1.25"/>
<line x1="505.0" y1="768.3" x2="505.0" y2="775.6" stroke="#000" stroke-width="2.1"/>
<text x="481.5" y="803.0" font-size="25.4" font-weight="bold">10<tspan dy="-9.6" font-size="17.7">0</tspan></text>
<line x1="613.0" y1="768.3" x2="613.0" y2="772.5" stroke="#000" stroke-width="1.25"/>
<line x1="676.1" y1="768.3" x2="676.1" y2="772.5" stroke="#000" stroke-width="1.25"/>
<line x1="721.0" y1="768.3" x2="721.0" y2="772.5" stroke="#000" stroke-width="1.25"/>
<line x1="755.7" y1="768.3" x2="755.7" y2="772.5" stroke="#000" stroke-width="1.25"/>
<line x1="784.1" y1="768.3" x2="784.1" y2="772.5" stroke="#000" stroke-width="1.25"/>
<line x1="808.1" y1="768.3" x2="808.1" y2="772.5" stroke="#000" stroke-width="1.25"/>
<line x1="828.9" y1="768.3" x2="828.9" y2="772.5" stroke="#000" stroke-width="1.25"/>
<line x1="847.3" y1="768.3" x2="847.3" y2="772.5" stroke="#000" stroke-width="1.25"/>
<line x1="863.7" y1="768.3" x2="863.7" y2="775.6" stroke="#000" stroke-width="2.1"/>
<text x="840.2" y="803.0" font-size="25.4" font-weight="bold">10<tspan dy="-9.6" font-size="17.7">1</tspan></text>
<line x1="971.7" y1="768.3" x2="971.7" y2="772.5" stroke="#000" stroke-width="1.25"/>
<line x1="1034.8" y1="768.3" x2="1034.8" y2="772.5" stroke="#000" stroke-width="1.25"/>
<text x="595.7" y="837" text-anchor="middle" font-size="25.3" font-weight="bold">Projected Planet-Star Separation, <tspan font-style="italic">s</tspan>, in AU</text>
<text transform="translate(78.6,430.9) rotate(-90)" text-anchor="middle" font-size="25.4" font-weight="bold">Planet-Star Δmag</text>
<text x="443.6" y="81.5" font-size="30.55" font-weight="bold">Inclination: 69.0<tspan dx="5" dy="-11" font-size="21" font-weight="bold">∘</tspan></text>
<rect x="820.8" y="108.4" width="212.0" height="303.6" rx="5" ry="5" fill="#fff" fill-opacity="0.8" stroke="#ccc" stroke-opacity="0.9" stroke-width="2.2"/>
<line x1="828.6" y1="129.1" x2="884.1" y2="129.1" stroke="#808080" stroke-width="5.2"/>
<text x="901.0" y="138.4" font-size="25.4" font-weight="bold">Mercury</text>
<line x1="828.6" y1="166.1" x2="884.1" y2="166.1" stroke="#FFD700" stroke-width="5.2"/>
<text x="901.0" y="175.4" font-size="25.4" font-weight="bold">Venus</text>
<line x1="828.6" y1="203.0" x2="884.1" y2="203.0" stroke="#0000FF" stroke-width="5.2"/>
<text x="901.0" y="212.3" font-size="25.4" font-weight="bold">Earth</text>
<line x1="828.6" y1="240.0" x2="884.1" y2="240.0" stroke="#FF0000" stroke-width="5.2"/>
<text x="901.0" y="249.3" font-size="25.4" font-weight="bold">Mars</text>
<line x1="828.6" y1="276.9" x2="884.1" y2="276.9" stroke="#FFA500" stroke-width="5.2"/>
<text x="901.0" y="286.2" font-size="25.4" font-weight="bold">Jupiter</text>
<line x1="828.6" y1="313.9" x2="884.1" y2="313.9" stroke="#DAA520" stroke-width="5.2"/>
<text x="901.0" y="323.2" font-size="25.4" font-weight="bold">Saturn</text>
<line x1="828.6" y1="350.9" x2="884.1" y2="350.9" stroke="#00008B" stroke-width="5.2"/>
<text x="901.0" y="360.2" font-size="25.4" font-weight="bold">Uranus</text>
<line x1="828.6" y1="387.8" x2="884.1" y2="387.8" stroke="#00BFFF" stroke-width="5.2"/>
<text x="901.0" y="397.1" font-size="25.4" font-weight="bold">Neptune</text>
</g>
<text class="pl" x="1121.7" y="930.5" font-size="56" stroke="#000" stroke-width="0.5">(d)</text>
<g transform="translate(0.0,1740.0)">
<clipPath id="cp4"><rect x="146.8" y="96.1" width="898.6" height="669.6"/></clipPath>
<g clip-path="url(#cp4)">
<path d="M149.1,601.7L149.1,626.8L149.7,627.3L218.3,627.3L296.6,623.4L335.6,616.8L374.5,607.8L395.1,598.8L408.7,582.5L412.4,562.7L412.3,561.6L405.8,546.2L387.7,525.6L361.6,494.3L338.5,468.5L317.6,459.2L218.3,453.9L149.6,455.2L149.1,455.7L149.3,516.3L192.3,530.9L231.4,546.5L256.6,559.1L263.6,566.6L264.5,568.6L264.2,570.8L262.9,572.5L256.7,576.6L231.4,584.2L192.2,593.4L149.6,601.1Z" fill="#808080" fill-opacity="0.3" fill-rule="evenodd"/>
<path d="M212.6,615.9L239.6,620.7L267.0,624.3L294.5,626.7L316.5,627.4L343.8,634.3L384.1,643.3L399.2,647.7L410.3,651.7L421.1,656.7L428.2,661.5L429.4,663.1L429.6,665.1L428.7,668.3L425.7,670.2L414.8,673.1L403.4,675.1L320.7,682.7L295.3,683.4L268.6,685.7L241.8,689.2L215.6,694.1L241.8,698.9L268.6,702.7L295.3,705.3L308.7,706.1L327.5,706.5L414.9,698.5L437.0,695.4L456.7,691.6L466.9,688.5L471.2,686.4L474.6,684.1L479.8,678.4L482.0,674.1L483.0,670.7L483.5,665.6L482.7,660.6L480.9,656.1L477.8,651.3L474.3,647.7L469.0,643.6L462.6,639.9L455.1,636.3L440.4,630.8L415.3,623.5L369.8,613.5L325.8,602.5L322.3,603.8L294.6,605.0L267.0,607.5L239.5,611.1Z" fill="#FFD700" fill-opacity="0.3" fill-rule="evenodd"/>
<path d="M299.1,555.3L317.1,560.9L335.5,565.1L354.0,567.9L365.5,568.7L395.6,578.8L414.5,586.4L425.8,591.6L436.8,597.3L447.5,603.8L454.6,608.6L461.3,613.9L467.6,619.8L473.1,626.4L474.8,629.0L475.3,630.9L474.0,635.5L475.1,640.1L474.4,642.3L471.0,644.4L460.3,647.5L445.2,650.3L425.8,652.7L402.2,654.6L364.6,656.5L356.5,657.3L348.5,658.5L332.5,661.9L316.6,666.6L309.0,669.6L324.6,674.0L340.6,677.4L356.5,679.7L373.0,680.8L415.8,678.5L446.3,675.9L465.1,673.4L480.3,670.7L494.7,667.4L505.6,664.1L513.7,660.4L519.6,656.2L524.0,651.4L527.1,645.7L528.6,640.5L529.0,635.2L528.4,630.1L527.1,625.3L524.5,619.8L521.4,614.9L517.1,609.6L512.2,604.7L498.8,593.8L482.1,583.0L462.1,572.5L438.5,562.3L409.2,551.9L376.2,542.5L373.3,543.3L354.1,544.5L335.5,546.9L317.0,550.5Z" fill="#0000FF" fill-opacity="0.3" fill-rule="evenodd"/>
<path d="M396.7,450.8L406.7,456.3L417.1,460.6L422.5,462.3L432.4,464.3L449.9,470.5L465.3,476.5L484.4,485.2L503.2,495.4L514.2,502.6L521.4,507.8L528.6,513.7L535.3,520.0L541.8,527.2L544.9,531.5L548.4,537.6L549.8,542.1L549.8,546.4L548.9,548.2L545.6,550.1L538.4,552.0L523.4,554.7L503.8,557.0L433.4,562.7L428.5,563.4L423.5,564.5L413.8,567.7L404.0,572.2L399.7,574.5L399.7,575.0L409.0,579.0L418.8,582.2L428.5,584.3L438.2,585.1L443.7,585.1L516.1,579.1L543.0,575.5L554.0,573.2L562.1,570.7L569.7,567.6L575.4,564.2L579.8,560.2L582.7,556.0L584.5,552.1L585.5,547.1L585.6,543.0L584.9,538.1L583.5,533.4L581.1,528.0L574.4,517.5L564.6,506.3L551.1,494.3L535.8,483.2L518.9,472.9L504.2,465.2L487.6,457.5L466.9,449.2L446.1,441.8L443.7,440.4L432.9,440.6L422.4,442.1L406.7,446.4L396.7,450.3Z" fill="#FF0000" fill-opacity="0.3" fill-rule="evenodd"/>
<path d="M624.7,598.8L665.7,621.3L684.9,633.5L696.1,642.7L718.4,664.1L727.4,670.8L744.1,680.5L745.7,682.2L746.1,684.4L745.2,686.4L743.4,687.7L738.1,689.5L726.7,692.4L711.3,695.2L680.1,698.9L626.6,702.7L622.6,705.1L621.0,707.3L619.9,709.7L619.5,712.4L619.8,715.1L620.7,717.6L622.3,719.8L624.3,721.5L627.2,722.7L630.0,723.0L661.7,721.1L694.1,718.3L718.7,714.9L737.4,710.9L750.3,706.7L758.7,702.3L761.7,700.0L764.0,697.3L765.4,694.6L766.1,692.0L765.4,685.2L766.0,679.4L764.9,674.8L762.0,670.6L758.7,667.4L753.9,663.9L735.8,653.7L728.4,648.6L720.5,641.5L704.2,625.3L689.9,613.8L673.5,603.4L638.1,583.8L634.7,580.9L631.8,579.6L627.2,579.6L624.3,580.9L621.0,584.3L619.9,586.8L619.5,589.9L620.7,594.6L622.3,596.8Z" fill="#FFA500" fill-opacity="0.3" fill-rule="evenodd"/>
<path d="M717.5,560.3L740.7,579.8L755.7,590.3L772.7,599.2L805.0,612.3L820.3,619.3L827.9,623.4L837.6,629.6L843.2,634.2L844.7,636.6L844.5,638.9L843.1,640.7L838.5,643.3L828.0,647.2L813.2,650.6L797.7,652.9L782.0,654.6L722.7,658.9L721.1,659.9L719.5,661.9L718.1,666.2L717.9,668.9L718.8,674.4L719.8,676.6L722.0,678.9L724.9,679.4L777.9,675.8L800.3,673.4L818.9,670.5L833.8,666.7L844.8,662.3L852.7,657.3L855.6,654.6L857.9,651.7L859.6,647.8L860.2,644.3L859.8,638.0L860.1,631.8L858.9,626.6L856.3,622.1L852.0,617.3L847.9,613.7L839.6,607.9L829.2,601.8L818.8,596.6L780.9,581.1L765.6,573.7L757.9,569.1L750.1,563.6L728.1,545.2L726.6,543.3L725.0,542.4L722.7,542.4L721.1,543.3L718.8,547.1L717.9,552.3L718.4,558.4Z" fill="#DAA520" fill-opacity="0.3" fill-rule="evenodd"/>
<path d="M826.4,493.2L841.2,504.7L854.4,512.6L863.1,516.5L871.8,519.6L902.0,527.6L912.9,531.6L928.3,538.9L943.4,547.2L949.7,551.6L950.9,553.2L951.2,555.3L950.4,557.2L948.7,558.4L943.9,560.2L936.6,562.1L925.5,564.1L910.0,565.9L832.8,573.0L831.4,574.2L830.7,576.2L829.8,583.3L830.7,590.6L831.4,592.6L832.5,593.6L847.9,592.6L912.0,586.5L934.8,583.5L945.6,580.9L956.1,577.0L963.7,572.2L966.3,569.6L968.0,567.2L969.4,562.5L968.8,556.3L969.3,550.6L968.5,546.9L966.5,543.1L962.1,537.8L955.8,532.5L947.5,527.0L937.2,521.3L920.8,513.3L910.0,508.9L876.2,499.8L861.4,494.2L849.9,487.8L838.5,479.3L835.7,478.4L833.1,475.1L831.7,475.7L830.7,477.8L829.9,482.5L829.9,486.8L828.9,489.6L826.4,492.5Z" fill="#00008B" fill-opacity="0.3" fill-rule="evenodd"/>
<path d="M898.1,444.8L961.2,482.7L968.9,488.0L991.3,505.2L1019.7,521.3L1021.6,523.3L1021.9,525.3L1021.2,527.2L1019.7,528.5L1013.5,531.0L1002.6,534.0L987.2,537.0L971.7,539.3L952.0,541.4L902.7,545.1L902.2,545.2L901.3,548.1L900.8,554.9L901.3,561.8L902.5,564.6L925.6,563.3L955.9,560.7L978.2,558.1L996.6,555.1L1011.3,551.7L1024.1,547.2L1032.0,542.7L1036.6,537.9L1038.2,534.9L1038.9,531.6L1038.9,521.1L1038.1,517.2L1036.4,513.6L1033.6,510.0L1030.1,506.7L1025.0,503.0L999.3,488.8L991.6,483.5L975.3,470.6L961.1,461.1L907.2,429.1L905.3,428.7L902.8,426.9L902.0,427.6L901.3,429.7L900.8,437.7L900.3,439.8L897.8,444.0Z" fill="#00BFFF" fill-opacity="0.3" fill-rule="evenodd"/>
<path d="M224.7,616.6L263.0,611.4L289.0,607.2L309.0,603.0L317.0,600.9L325.0,598.4L333.0,595.3L339.0,592.5L344.4,589.2L348.8,585.9L352.2,582.5L355.0,578.3L356.5,574.6L357.1,570.2L356.6,565.6L355.3,561.4L352.6,556.4L349.3,551.8L344.4,546.1L339.0,540.8L333.0,535.4L325.0,528.8L315.0,521.2L303.0,512.5L291.0,504.3L277.0,495.2L265.0,487.7L251.0,479.4L237.0,471.5L224.7,464.8" fill="none" stroke="#808080" stroke-width="5.2" stroke-linejoin="round" stroke-linecap="square"/>
<path d="M322.0,695.0L365.0,691.1L399.0,688.4L411.0,686.9L423.0,684.8L431.0,682.8L437.0,680.9L441.7,679.1L446.0,676.9L449.4,674.6L452.2,672.0L453.9,669.3L454.5,666.6L454.3,664.8L453.9,663.3L452.2,660.2L449.4,656.8L445.4,653.3L441.0,650.1L435.0,646.5L429.0,643.6L423.0,641.0L411.0,636.7L397.0,632.6L353.0,622.5L322.0,614.8" fill="none" stroke="#FFD700" stroke-width="5.2" stroke-linejoin="round" stroke-linecap="square"/>
<path d="M372.6,669.4L407.0,667.8L435.0,665.7L447.0,664.3L457.0,662.9L467.0,661.1L475.0,659.3L483.0,656.9L489.0,654.6L493.8,652.2L497.3,649.8L500.5,646.8L502.9,643.7L504.4,640.3L505.0,636.1L504.8,633.4L504.4,631.1L502.6,626.3L499.3,620.6L495.0,615.2L489.0,609.0L483.0,603.9L475.0,597.9L467.0,592.6L457.0,586.7L447.0,581.5L437.0,576.7L425.0,571.6L413.0,567.0L401.0,562.7L387.0,558.3L372.6,554.1" fill="none" stroke="#0000FF" stroke-width="5.2" stroke-linejoin="round" stroke-linecap="square"/>
<path d="M438.2,574.8L479.0,572.0L509.0,569.4L529.0,567.2L537.0,565.9L545.0,564.4L551.0,562.9L557.0,560.8L560.9,559.0L564.1,556.9L566.7,554.7L568.8,551.7L570.2,548.4L570.6,544.8L570.5,542.0L570.0,539.6L568.0,533.8L564.6,527.5L560.3,521.4L555.0,515.2L547.0,507.3L539.0,500.5L531.0,494.5L523.0,489.1L513.0,482.9L503.0,477.4L491.0,471.3L479.0,465.9L465.0,460.1L451.0,454.9L438.2,450.6" fill="none" stroke="#FF0000" stroke-width="5.2" stroke-linejoin="round" stroke-linecap="square"/>
<path d="M629.5,712.8L663.0,710.7L689.0,708.6L709.0,706.1L727.0,703.0L735.0,701.2L743.0,698.9L748.5,697.0L753.1,694.9L756.7,692.8L759.7,690.3L761.3,688.1L761.9,685.4L761.6,683.3L760.7,681.2L759.1,679.0L756.7,676.8L750.6,672.4L735.0,663.4L731.0,660.8L727.0,657.8L719.0,650.8L703.0,635.0L697.0,629.9L691.0,625.2L681.0,618.4L669.0,611.2L629.5,589.5" fill="none" stroke="#FFA500" stroke-width="5.2" stroke-linejoin="round" stroke-linecap="square"/>
<path d="M723.9,669.2L763.0,666.7L787.0,664.7L807.0,662.2L815.0,660.9L823.0,659.3L831.0,657.2L837.0,655.3L843.0,652.7L847.4,650.3L851.3,647.4L854.0,644.5L855.7,641.4L856.3,638.3L856.1,635.9L855.2,633.4L853.8,630.8L852.1,628.7L849.5,626.0L846.8,623.7L839.0,618.1L829.0,612.2L819.0,607.1L809.0,602.7L779.0,590.6L771.0,586.9L763.0,582.6L755.0,577.5L747.0,571.7L723.9,552.3" fill="none" stroke="#DAA520" stroke-width="5.2" stroke-linejoin="round" stroke-linecap="square"/>
<path d="M832.8,583.5L849.0,582.3L881.0,579.0L915.0,576.0L927.0,574.5L937.0,572.7L943.0,571.3L949.0,569.5L953.8,567.6L957.4,565.8L960.7,563.6L963.1,561.3L964.6,559.0L965.2,556.4L964.9,554.0L963.6,551.4L961.5,548.6L958.4,545.5L955.1,542.8L951.0,539.8L945.0,536.1L939.0,532.7L923.0,524.7L911.0,519.6L903.0,517.0L885.0,512.5L877.0,510.3L869.0,507.6L863.0,505.2L855.0,501.2L849.0,497.5L841.0,491.9L832.8,485.1" fill="none" stroke="#00008B" stroke-width="5.2" stroke-linejoin="round" stroke-linecap="square"/>
<path d="M902.8,555.6L937.0,553.3L963.0,550.9L985.0,548.0L1003.0,544.7L1011.0,542.7L1017.0,540.8L1022.4,538.7L1026.8,536.5L1030.3,534.3L1033.1,531.6L1034.6,529.2L1035.2,526.2L1035.0,524.3L1034.6,522.7L1032.8,519.5L1029.4,515.8L1025.1,512.4L1019.0,508.7L1005.0,501.3L997.0,496.5L989.0,490.7L975.0,479.7L961.0,470.2L902.8,435.5" fill="none" stroke="#00BFFF" stroke-width="5.2" stroke-linejoin="round" stroke-linecap="square"/>
<line x1="380.6" y1="96.1" x2="380.6" y2="765.7" stroke="#000" stroke-width="5.2"/>
<line x1="568.2" y1="96.1" x2="568.2" y2="765.7" stroke="#000" stroke-width="5.2"/>
</g>
<text transform="translate(406.4,225.3) rotate(-90)" font-size="25.4" font-weight="bold"><tspan x="0" y="0">45 mas</tspan><tspan x="0" y="29.4">at 10 pc</tspan></text>
<text transform="translate(594.0,225.3) rotate(-90)" font-size="25.4" font-weight="bold"><tspan x="0" y="0">150 mas</tspan><tspan x="0" y="29.4">at 10 pc</tspan></text>
<rect x="146.8" y="96.1" width="898.6" height="669.6" fill="none" stroke="#000" stroke-width="5.2"/>
<line x1="136.9" y1="741.6" x2="144.2" y2="741.6" stroke="#000" stroke-width="2.1"/>
<text x="129.2" y="751.6" text-anchor="end" font-size="25.4" font-weight="bold">20</text>
<line x1="136.9" y1="617.4" x2="144.2" y2="617.4" stroke="#000" stroke-width="2.1"/>
<text x="129.2" y="627.4" text-anchor="end" font-size="25.4" font-weight="bold">25</text>
<line x1="136.9" y1="493.2" x2="144.2" y2="493.2" stroke="#000" stroke-width="2.1"/>
<text x="129.2" y="503.2" text-anchor="end" font-size="25.4" font-weight="bold">30</text>
<line x1="136.9" y1="369.0" x2="144.2" y2="369.0" stroke="#000" stroke-width="2.1"/>
<text x="129.2" y="379.0" text-anchor="end" font-size="25.4" font-weight="bold">35</text>
<line x1="136.9" y1="244.8" x2="144.2" y2="244.8" stroke="#000" stroke-width="2.1"/>
<text x="129.2" y="254.8" text-anchor="end" font-size="25.4" font-weight="bold">40</text>
<line x1="136.9" y1="120.6" x2="144.2" y2="120.6" stroke="#000" stroke-width="2.1"/>
<text x="129.2" y="130.6" text-anchor="end" font-size="25.4" font-weight="bold">45</text>
<line x1="146.3" y1="768.3" x2="146.3" y2="775.6" stroke="#000" stroke-width="2.1"/>
<text x="115.5" y="803.0" font-size="25.4" font-weight="bold">10<tspan dy="-9.6" font-size="17.7">−1</tspan></text>
<line x1="254.3" y1="768.3" x2="254.3" y2="772.5" stroke="#000" stroke-width="1.25"/>
<line x1="317.4" y1="768.3" x2="317.4" y2="772.5" stroke="#000" stroke-width="1.25"/>
<line x1="362.3" y1="768.3" x2="362.3" y2="772.5" stroke="#000" stroke-width="1.25"/>
<line x1="397.0" y1="768.3" x2="397.0" y2="772.5" stroke="#000" stroke-width="1.25"/>
<line x1="425.4" y1="768.3" x2="425.4" y2="772.5" stroke="#000" stroke-width="1.25"/>
<line x1="449.4" y1="768.3" x2="449.4" y2="772.5" stroke="#000" stroke-width="1.25"/>
<line x1="470.2" y1="768.3" x2="470.2" y2="772.5" stroke="#000" stroke-width="1.25"/>
<line x1="488.6" y1="768.3" x2="488.6" y2="772.5" stroke="#000" stroke-width="1.25"/>
<line x1="505.0" y1="768.3" x2="505.0" y2="775.6" stroke="#000" stroke-width="2.1"/>
<text x="481.5" y="803.0" font-size="25.4" font-weight="bold">10<tspan dy="-9.6" font-size="17.7">0</tspan></text>
<line x1="613.0" y1="768.3" x2="613.0" y2="772.5" stroke="#000" stroke-width="1.25"/>
<line x1="676.1" y1="768.3" x2="676.1" y2="772.5" stroke="#000" stroke-width="1.25"/>
<line x1="721.0" y1="768.3" x2="721.0" y2="772.5" stroke="#000" stroke-width="1.25"/>
<line x1="755.7" y1="768.3" x2="755.7" y2="772.5" stroke="#000" stroke-width="1.25"/>
<line x1="784.1" y1="768.3" x2="784.1" y2="772.5" stroke="#000" stroke-width="1.25"/>
<line x1="808.1" y1="768.3" x2="808.1" y2="772.5" stroke="#000" stroke-width="1.25"/>
<line x1="828.9" y1="768.3" x2="828.9" y2="772.5" stroke="#000" stroke-width="1.25"/>
<line x1="847.3" y1="768.3" x2="847.3" y2="772.5" stroke="#000" stroke-width="1.25"/>
<line x1="863.7" y1="768.3" x2="863.7" y2="775.6" stroke="#000" stroke-width="2.1"/>
<text x="840.2" y="803.0" font-size="25.4" font-weight="bold">10<tspan dy="-9.6" font-size="17.7">1</tspan></text>
<line x1="971.7" y1="768.3" x2="971.7" y2="772.5" stroke="#000" stroke-width="1.25"/>
<line x1="1034.8" y1="768.3" x2="1034.8" y2="772.5" stroke="#000" stroke-width="1.25"/>
<text x="595.7" y="837" text-anchor="middle" font-size="25.3" font-weight="bold">Projected Planet-Star Separation, <tspan font-style="italic">s</tspan>, in AU</text>
<text transform="translate(78.6,430.9) rotate(-90)" text-anchor="middle" font-size="25.4" font-weight="bold">Planet-Star Δmag</text>
<text x="443.6" y="81.5" font-size="30.55" font-weight="bold">Inclination: 64.7<tspan dx="5" dy="-11" font-size="21" font-weight="bold">∘</tspan></text>
<rect x="820.8" y="108.4" width="212.0" height="303.6" rx="5" ry="5" fill="#fff" fill-opacity="0.8" stroke="#ccc" stroke-opacity="0.9" stroke-width="2.2"/>
<line x1="828.6" y1="129.1" x2="884.1" y2="129.1" stroke="#808080" stroke-width="5.2"/>
<text x="901.0" y="138.4" font-size="25.4" font-weight="bold">Mercury</text>
<line x1="828.6" y1="166.1" x2="884.1" y2="166.1" stroke="#FFD700" stroke-width="5.2"/>
<text x="901.0" y="175.4" font-size="25.4" font-weight="bold">Venus</text>
<line x1="828.6" y1="203.0" x2="884.1" y2="203.0" stroke="#0000FF" stroke-width="5.2"/>
<text x="901.0" y="212.3" font-size="25.4" font-weight="bold">Earth</text>
<line x1="828.6" y1="240.0" x2="884.1" y2="240.0" stroke="#FF0000" stroke-width="5.2"/>
<text x="901.0" y="249.3" font-size="25.4" font-weight="bold">Mars</text>
<line x1="828.6" y1="276.9" x2="884.1" y2="276.9" stroke="#FFA500" stroke-width="5.2"/>
<text x="901.0" y="286.2" font-size="25.4" font-weight="bold">Jupiter</text>
<line x1="828.6" y1="313.9" x2="884.1" y2="313.9" stroke="#DAA520" stroke-width="5.2"/>
<text x="901.0" y="323.2" font-size="25.4" font-weight="bold">Saturn</text>
<line x1="828.6" y1="350.9" x2="884.1" y2="350.9" stroke="#00008B" stroke-width="5.2"/>
<text x="901.0" y="360.2" font-size="25.4" font-weight="bold">Uranus</text>
<line x1="828.6" y1="387.8" x2="884.1" y2="387.8" stroke="#00BFFF" stroke-width="5.2"/>
<text x="901.0" y="397.1" font-size="25.4" font-weight="bold">Neptune</text>
</g>
<text class="pl" x="-3.2" y="1801" font-size="56" stroke="#000" stroke-width="0.5">(e)</text>
<g transform="translate(1124.9,1740.0)">
<clipPath id="cp5"><rect x="146.8" y="96.1" width="898.6" height="669.6"/></clipPath>
<g clip-path="url(#cp5)">
<path d="M151.0,512.8L166.3,520.4L205.4,536.1L244.5,554.3L261.9,563.0L265.6,567.1L266.4,568.9L266.3,570.8L265.3,572.5L262.2,575.4L243.9,585.7L205.2,596.0L158.9,605.2L179.2,607.7L231.3,612.9L283.4,615.6L335.6,614.3L374.5,609.1L395.4,598.7L408.4,585.9L415.0,567.9L415.0,566.7L408.8,546.7L395.8,525.9L374.3,508.5L348.5,503.4L296.5,501.6L244.4,502.6L192.3,506.0Z" fill="#808080" fill-opacity="0.3" fill-rule="evenodd"/>
<path d="M341.3,633.7L354.9,638.4L368.8,642.0L375.9,643.4L391.2,645.0L393.2,645.6L408.4,651.0L419.2,655.7L426.0,659.8L428.1,661.4L429.3,663.0L429.5,666.1L428.7,668.3L426.8,669.7L420.3,671.8L405.3,674.8L394.9,676.2L383.1,677.0L369.4,679.2L355.6,682.8L342.1,687.6L362.5,694.5L383.1,698.8L398.3,700.2L421.3,697.7L444.5,694.1L461.6,690.3L466.8,688.5L471.2,686.4L475.7,683.2L478.8,679.9L481.3,675.7L482.6,672.4L483.4,665.4L483.0,662.0L481.6,657.6L477.8,651.3L471.6,645.5L463.5,640.3L452.3,635.1L440.4,630.8L419.7,624.7L400.5,620.0L399.1,621.0L397.2,621.5L382.9,622.6L368.8,625.2L354.8,628.8L341.3,633.4Z" fill="#FFD700" fill-opacity="0.3" fill-rule="evenodd"/>
<path d="M404.9,582.0L420.5,589.8L426.0,591.9L435.9,594.6L437.7,595.6L439.4,598.8L454.5,608.6L464.5,616.8L472.9,626.1L474.8,629.0L475.3,630.9L474.0,635.7L475.1,640.1L474.4,642.3L472.6,643.7L460.4,647.5L444.1,650.8L437.3,651.7L427.5,654.5L417.3,658.8L407.9,664.0L407.9,664.5L422.3,670.6L432.3,673.4L442.3,675.1L452.9,675.4L482.5,670.3L494.7,667.4L505.6,664.1L512.7,661.0L517.7,657.8L522.3,653.5L525.4,649.2L527.2,645.6L528.4,641.7L528.9,637.8L528.8,632.6L526.6,624.2L522.0,615.8L514.7,607.1L505.0,598.5L491.5,588.8L477.6,580.5L464.3,573.6L454.0,568.8L452.1,570.4L450.5,570.8L436.7,571.7L425.8,573.9L415.1,577.3L404.9,581.5Z" fill="#0000FF" fill-opacity="0.3" fill-rule="evenodd"/>
<path d="M490.4,481.4L495.8,487.0L503.3,492.8L504.9,494.7L505.4,496.9L521.5,507.9L528.6,513.7L535.5,520.1L541.8,527.2L544.9,531.5L548.4,537.6L549.8,542.1L549.8,546.4L548.9,548.2L547.3,549.4L541.9,551.2L534.7,552.8L507.4,557.0L502.1,559.3L499.2,561.1L493.7,565.5L491.4,567.6L491.5,568.4L499.2,574.2L504.9,577.2L510.4,579.0L518.5,579.3L520.8,578.6L545.1,575.1L558.7,571.9L565.6,569.4L571.4,566.7L576.2,563.6L579.8,560.2L583.7,554.1L585.4,548.1L585.4,541.0L583.5,533.4L579.7,525.4L574.4,517.5L567.7,509.6L557.7,499.9L548.9,492.5L540.2,486.2L519.0,472.9L510.0,472.7L504.3,473.7L495.7,477.3L490.5,480.6Z" fill="#FF0000" fill-opacity="0.3" fill-rule="evenodd"/>
<path d="M697.7,644.1L718.4,664.1L727.4,670.8L744.2,680.6L745.7,682.2L746.1,684.4L745.2,686.5L743.4,687.8L736.2,690.0L721.1,693.5L703.0,696.5L700.9,699.2L700.0,701.3L699.3,706.6L700.0,712.0L700.9,714.2L702.7,716.4L703.8,716.9L705.9,716.9L718.7,714.9L731.1,712.4L741.7,709.7L750.3,706.7L755.2,704.4L759.9,701.5L763.2,698.3L765.2,695.3L766.1,692.0L765.4,685.3L765.9,678.2L763.8,672.9L758.7,667.4L751.5,662.3L737.7,654.7L730.1,649.9L722.3,643.3L707.8,629.0L706.6,627.2L705.2,626.2L703.8,626.1L702.7,626.7L700.7,629.2L699.5,633.8L699.4,641.0L697.7,643.4Z" fill="#FFA500" fill-opacity="0.3" fill-rule="evenodd"/>
<path d="M795.4,608.5L810.8,614.8L826.0,622.3L839.3,630.9L843.7,634.7L844.8,636.7L844.5,639.0L843.1,640.8L838.9,643.1L833.3,645.5L818.8,649.5L797.5,653.0L796.1,658.2L795.8,665.9L796.6,670.7L797.4,672.4L798.4,673.5L806.4,672.6L818.9,670.5L836.0,666.0L842.6,663.4L848.6,660.2L853.4,656.8L857.1,652.9L859.2,649.1L860.2,645.1L859.8,638.2L860.1,632.4L859.5,628.5L857.9,624.6L854.9,620.3L850.8,616.1L845.9,612.2L835.5,605.3L825.1,599.7L812.7,593.9L798.7,588.4L797.1,590.0L796.1,593.6L795.7,598.8L796.1,603.9L795.1,607.8Z" fill="#DAA520" fill-opacity="0.3" fill-rule="evenodd"/>
<path d="M904.8,528.5L920.6,535.1L939.7,545.0L949.7,551.6L950.9,553.2L951.2,555.3L950.4,557.2L948.7,558.4L940.2,561.2L925.5,564.1L906.8,566.3L905.9,571.4L905.7,579.2L906.2,584.0L907.4,586.7L916.0,586.1L930.6,584.2L939.1,582.6L947.7,580.3L954.5,577.8L959.9,575.0L964.3,571.7L967.6,567.9L969.0,564.7L969.4,561.9L968.8,556.3L969.2,550.1L968.0,545.6L965.3,541.4L961.5,537.2L955.9,532.6L949.6,528.3L939.3,522.4L924.9,515.3L914.4,510.5L907.6,508.3L906.6,509.7L905.9,513.3L905.8,522.8L904.5,527.8Z" fill="#00008B" fill-opacity="0.3" fill-rule="evenodd"/>
<path d="M971.7,490.1L991.3,505.2L1019.7,521.3L1021.6,523.3L1021.9,525.3L1021.2,527.2L1019.7,528.5L1009.9,532.1L995.0,535.6L976.3,538.8L975.7,550.9L976.2,555.4L977.4,557.9L982.3,557.5L996.6,555.1L1015.5,550.4L1024.1,547.2L1028.7,544.8L1033.2,541.7L1036.2,538.6L1038.0,535.5L1038.8,532.2L1038.9,521.7L1038.5,518.5L1037.3,515.4L1035.1,511.7L1032.0,508.3L1028.1,505.1L1020.8,500.5L999.3,488.8L991.6,483.5L982.5,476.1L980.1,475.4L977.6,472.9L976.8,473.5L976.2,475.5L975.6,482.7L974.8,485.3L971.6,489.4Z" fill="#00BFFF" fill-opacity="0.3" fill-rule="evenodd"/>
<path d="M299.5,605.1L313.0,602.0L325.0,598.4L335.0,594.4L343.0,590.2L348.8,585.9L351.3,583.5L353.4,580.9L355.0,578.3L356.1,575.7L356.8,573.0L357.1,570.2L356.9,567.4L356.3,564.5L355.3,561.4L353.8,558.3L351.8,555.1L349.3,551.8L343.7,545.4L335.0,537.1L325.0,528.8L313.0,519.7L299.5,510.1" fill="none" stroke="#808080" stroke-width="5.2" stroke-linejoin="round" stroke-linecap="square"/>
<path d="M396.9,688.6L409.0,687.2L421.0,685.2L431.0,682.8L439.0,680.2L445.4,677.2L448.0,675.6L450.6,673.6L452.2,672.0L453.4,670.3L454.1,668.6L454.5,666.6L454.2,664.4L453.4,662.2L451.9,659.8L449.8,657.3L447.1,654.6L444.3,652.4L437.0,647.6L429.0,643.6L419.0,639.5L409.0,636.1L396.9,632.6" fill="none" stroke="#FFD700" stroke-width="5.2" stroke-linejoin="round" stroke-linecap="square"/>
<path d="M447.4,664.3L461.0,662.3L473.0,659.8L483.0,656.9L491.0,653.6L496.8,650.2L499.3,648.1L501.3,646.0L502.9,643.7L504.0,641.3L504.7,638.7L505.0,636.1L504.7,632.8L504.0,629.9L502.6,626.3L500.9,623.1L498.8,619.9L496.2,616.5L493.1,613.1L489.0,609.0L481.0,602.3L471.0,595.2L459.0,587.8L447.4,581.7" fill="none" stroke="#0000FF" stroke-width="5.2" stroke-linejoin="round" stroke-linecap="square"/>
<path d="M513.0,569.0L529.0,567.2L541.0,565.2L551.0,562.9L557.7,560.5L563.1,557.6L565.5,555.8L567.4,553.9L568.6,552.2L569.7,549.9L570.4,547.4L570.6,544.8L570.4,541.4L569.7,538.4L568.3,534.5L566.7,531.1L564.1,526.7L561.5,523.0L555.0,515.2L547.0,507.3L537.0,498.9L525.0,490.4L513.0,482.9" fill="none" stroke="#FF0000" stroke-width="5.2" stroke-linejoin="round" stroke-linecap="square"/>
<path d="M704.3,706.8L717.0,704.9L729.0,702.6L739.0,700.1L747.0,697.6L753.1,694.9L758.0,691.9L759.7,690.3L760.9,688.7L761.6,687.1L761.9,685.4L761.6,683.3L760.7,681.2L759.1,679.0L756.7,676.8L750.6,672.4L735.0,663.4L731.0,660.8L727.0,657.8L719.0,650.8L704.3,636.2" fill="none" stroke="#FFA500" stroke-width="5.2" stroke-linejoin="round" stroke-linecap="square"/>
<path d="M798.7,663.4L811.0,661.6L823.0,659.3L833.0,656.6L841.0,653.6L847.4,650.3L850.0,648.5L852.4,646.3L854.0,644.5L855.2,642.6L856.0,640.6L856.3,638.3L856.1,635.9L855.4,633.8L854.3,631.7L852.8,629.5L850.4,626.9L847.9,624.6L841.0,619.4L833.0,614.4L823.0,609.0L813.0,604.4L798.7,598.6" fill="none" stroke="#DAA520" stroke-width="5.2" stroke-linejoin="round" stroke-linecap="square"/>
<path d="M907.6,576.7L921.0,575.3L931.0,573.9L941.0,571.8L949.0,569.5L955.7,566.7L958.4,565.2L961.1,563.2L962.8,561.6L964.1,560.0L964.9,558.4L965.2,556.4L965.1,554.7L964.4,552.9L963.4,551.0L961.8,549.0L957.4,544.6L951.0,539.8L943.0,534.9L931.0,528.6L917.0,522.0L907.6,518.4" fill="none" stroke="#00008B" stroke-width="5.2" stroke-linejoin="round" stroke-linecap="square"/>
<path d="M977.6,549.1L991.0,547.0L1003.0,544.7L1013.0,542.1L1021.0,539.3L1026.8,536.5L1029.4,534.9L1031.5,533.3L1033.1,531.6L1034.2,529.9L1034.9,528.1L1035.2,526.2L1034.7,523.1L1033.1,519.9L1030.3,516.6L1026.8,513.7L1021.0,509.8L1005.0,501.3L997.0,496.5L989.0,490.7L977.6,481.6" fill="none" stroke="#00BFFF" stroke-width="5.2" stroke-linejoin="round" stroke-linecap="square"/>
<line x1="380.6" y1="96.1" x2="380.6" y2="765.7" stroke="#000" stroke-width="5.2"/>
<line x1="568.2" y1="96.1" x2="568.2" y2="765.7" stroke="#000" stroke-width="5.2"/>
</g>
<text transform="translate(406.4,225.3) rotate(-90)" font-size="25.4" font-weight="bold"><tspan x="0" y="0">45 mas</tspan><tspan x="0" y="29.4">at 10 pc</tspan></text>
<text transform="translate(594.0,225.3) rotate(-90)" font-size="25.4" font-weight="bold"><tspan x="0" y="0">150 mas</tspan><tspan x="0" y="29.4">at 10 pc</tspan></text>
<rect x="146.8" y="96.1" width="898.6" height="669.6" fill="none" stroke="#000" stroke-width="5.2"/>
<line x1="136.9" y1="741.6" x2="144.2" y2="741.6" stroke="#000" stroke-width="2.1"/>
<text x="129.2" y="751.6" text-anchor="end" font-size="25.4" font-weight="bold">20</text>
<line x1="136.9" y1="617.4" x2="144.2" y2="617.4" stroke="#000" stroke-width="2.1"/>
<text x="129.2" y="627.4" text-anchor="end" font-size="25.4" font-weight="bold">25</text>
<line x1="136.9" y1="493.2" x2="144.2" y2="493.2" stroke="#000" stroke-width="2.1"/>
<text x="129.2" y="503.2" text-anchor="end" font-size="25.4" font-weight="bold">30</text>
<line x1="136.9" y1="369.0" x2="144.2" y2="369.0" stroke="#000" stroke-width="2.1"/>
<text x="129.2" y="379.0" text-anchor="end" font-size="25.4" font-weight="bold">35</text>
<line x1="136.9" y1="244.8" x2="144.2" y2="244.8" stroke="#000" stroke-width="2.1"/>
<text x="129.2" y="254.8" text-anchor="end" font-size="25.4" font-weight="bold">40</text>
<line x1="136.9" y1="120.6" x2="144.2" y2="120.6" stroke="#000" stroke-width="2.1"/>
<text x="129.2" y="130.6" text-anchor="end" font-size="25.4" font-weight="bold">45</text>
<line x1="146.3" y1="768.3" x2="146.3" y2="775.6" stroke="#000" stroke-width="2.1"/>
<text x="115.5" y="803.0" font-size="25.4" font-weight="bold">10<tspan dy="-9.6" font-size="17.7">−1</tspan></text>
<line x1="254.3" y1="768.3" x2="254.3" y2="772.5" stroke="#000" stroke-width="1.25"/>
<line x1="317.4" y1="768.3" x2="317.4" y2="772.5" stroke="#000" stroke-width="1.25"/>
<line x1="362.3" y1="768.3" x2="362.3" y2="772.5" stroke="#000" stroke-width="1.25"/>
<line x1="397.0" y1="768.3" x2="397.0" y2="772.5" stroke="#000" stroke-width="1.25"/>
<line x1="425.4" y1="768.3" x2="425.4" y2="772.5" stroke="#000" stroke-width="1.25"/>
<line x1="449.4" y1="768.3" x2="449.4" y2="772.5" stroke="#000" stroke-width="1.25"/>
<line x1="470.2" y1="768.3" x2="470.2" y2="772.5" stroke="#000" stroke-width="1.25"/>
<line x1="488.6" y1="768.3" x2="488.6" y2="772.5" stroke="#000" stroke-width="1.25"/>
<line x1="505.0" y1="768.3" x2="505.0" y2="775.6" stroke="#000" stroke-width="2.1"/>
<text x="481.5" y="803.0" font-size="25.4" font-weight="bold">10<tspan dy="-9.6" font-size="17.7">0</tspan></text>
<line x1="613.0" y1="768.3" x2="613.0" y2="772.5" stroke="#000" stroke-width="1.25"/>
<line x1="676.1" y1="768.3" x2="676.1" y2="772.5" stroke="#000" stroke-width="1.25"/>
<line x1="721.0" y1="768.3" x2="721.0" y2="772.5" stroke="#000" stroke-width="1.25"/>
<line x1="755.7" y1="768.3" x2="755.7" y2="772.5" stroke="#000" stroke-width="1.25"/>
<line x1="784.1" y1="768.3" x2="784.1" y2="772.5" stroke="#000" stroke-width="1.25"/>
<line x1="808.1" y1="768.3" x2="808.1" y2="772.5" stroke="#000" stroke-width="1.25"/>
<line x1="828.9" y1="768.3" x2="828.9" y2="772.5" stroke="#000" stroke-width="1.25"/>
<line x1="847.3" y1="768.3" x2="847.3" y2="772.5" stroke="#000" stroke-width="1.25"/>
<line x1="863.7" y1="768.3" x2="863.7" y2="775.6" stroke="#000" stroke-width="2.1"/>
<text x="840.2" y="803.0" font-size="25.4" font-weight="bold">10<tspan dy="-9.6" font-size="17.7">1</tspan></text>
<line x1="971.7" y1="768.3" x2="971.7" y2="772.5" stroke="#000" stroke-width="1.25"/>
<line x1="1034.8" y1="768.3" x2="1034.8" y2="772.5" stroke="#000" stroke-width="1.25"/>
<text x="595.7" y="837" text-anchor="middle" font-size="25.3" font-weight="bold">Projected Planet-Star Separation, <tspan font-style="italic">s</tspan>, in AU</text>
<text transform="translate(78.6,430.9) rotate(-90)" text-anchor="middle" font-size="25.4" font-weight="bold">Planet-Star Δmag</text>
<text x="443.6" y="81.5" font-size="30.55" font-weight="bold">Inclination: 46.3<tspan dx="5" dy="-11" font-size="21" font-weight="bold">∘</tspan></text>
<rect x="820.8" y="108.4" width="212.0" height="303.6" rx="5" ry="5" fill="#fff" fill-opacity="0.8" stroke="#ccc" stroke-opacity="0.9" stroke-width="2.2"/>
<line x1="828.6" y1="129.1" x2="884.1" y2="129.1" stroke="#808080" stroke-width="5.2"/>
<text x="901.0" y="138.4" font-size="25.4" font-weight="bold">Mercury</text>
<line x1="828.6" y1="166.1" x2="884.1" y2="166.1" stroke="#FFD700" stroke-width="5.2"/>
<text x="901.0" y="175.4" font-size="25.4" font-weight="bold">Venus</text>
<line x1="828.6" y1="203.0" x2="884.1" y2="203.0" stroke="#0000FF" stroke-width="5.2"/>
<text x="901.0" y="212.3" font-size="25.4" font-weight="bold">Earth</text>
<line x1="828.6" y1="240.0" x2="884.1" y2="240.0" stroke="#FF0000" stroke-width="5.2"/>
<text x="901.0" y="249.3" font-size="25.4" font-weight="bold">Mars</text>
<line x1="828.6" y1="276.9" x2="884.1" y2="276.9" stroke="#FFA500" stroke-width="5.2"/>
<text x="901.0" y="286.2" font-size="25.4" font-weight="bold">Jupiter</text>
<line x1="828.6" y1="313.9" x2="884.1" y2="313.9" stroke="#DAA520" stroke-width="5.2"/>
<text x="901.0" y="323.2" font-size="25.4" font-weight="bold">Saturn</text>
<line x1="828.6" y1="350.9" x2="884.1" y2="350.9" stroke="#00008B" stroke-width="5.2"/>
<text x="901.0" y="360.2" font-size="25.4" font-weight="bold">Uranus</text>
<line x1="828.6" y1="387.8" x2="884.1" y2="387.8" stroke="#00BFFF" stroke-width="5.2"/>
<text x="901.0" y="397.1" font-size="25.4" font-weight="bold">Neptune</text>
</g>
<text class="pl" x="1121.7" y="1801" font-size="56" stroke="#000" stroke-width="0.5">(f)</text>
</svg></body></html>
